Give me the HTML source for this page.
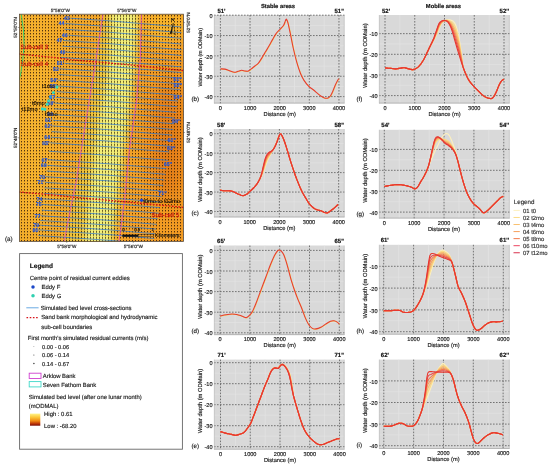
<!DOCTYPE html>
<html><head><meta charset="utf-8"><title>Sand bank figure</title>
<style>html,body{margin:0;padding:0;background:#fff;width:550px;height:465px;overflow:hidden}svg{display:block}</style>
</head><body>
<svg width="550" height="465" viewBox="0 0 550 465" text-rendering="geometricPrecision" font-family="'Liberation Sans', Arial, sans-serif">
<rect width="550" height="465" fill="#fff"/>
<defs>
<clipPath id="mclip"><rect x="19.4" y="14.2" width="164.1" height="227.2"/></clipPath>
<filter id="blur4" x="-20%" y="-20%" width="140%" height="140%"><feGaussianBlur stdDeviation="5"/></filter>
<filter id="blur3" x="-20%" y="-20%" width="140%" height="140%"><feGaussianBlur stdDeviation="3"/></filter><filter id="blur2" x="-20%" y="-20%" width="140%" height="140%"><feGaussianBlur stdDeviation="1.8"/></filter>
<filter id="blur8" x="-30%" y="-30%" width="160%" height="160%"><feGaussianBlur stdDeviation="9"/></filter>
<pattern id="dots" x="0" y="0" width="3" height="3" patternUnits="userSpaceOnUse"><rect x="0" y="0" width="1" height="1.4" fill="#3a1e08" fill-opacity="0.85"/></pattern>
<pattern id="dots2" x="0" y="0" width="3" height="3" patternUnits="userSpaceOnUse"><rect x="0" y="0" width="1" height="2.4" fill="#40360a" fill-opacity="0.6"/></pattern>
<linearGradient id="lg" x1="0" y1="0" x2="1" y2="0"><stop offset="0" stop-color="#f4ae2c"/><stop offset="0.3" stop-color="#f4aa2a"/><stop offset="0.7" stop-color="#f3a026"/><stop offset="1" stop-color="#f29a22"/></linearGradient>
</defs>
<g clip-path="url(#mclip)">
<rect x="19.4" y="14.2" width="164.1" height="227.2" fill="url(#lg)"/>
<ellipse cx="168" cy="140" rx="19" ry="62" fill="#e47e18" filter="url(#blur8)"/>
<ellipse cx="165" cy="25" rx="25" ry="22" fill="#f8b42a" filter="url(#blur8)"/>
<ellipse cx="35" cy="120" rx="18" ry="110" fill="#f7b630" filter="url(#blur8)" opacity="0.7"/>
<polygon points="104.5,0.0 104.5,8.0 104.2,16.0 102.9,24.0 101.7,32.0 100.5,40.0 99.2,48.0 98.0,56.0 96.7,64.0 95.5,72.0 94.2,80.0 92.8,88.0 91.5,96.0 90.2,104.0 88.8,112.0 87.5,120.0 86.2,128.0 85.0,136.0 83.7,144.0 82.4,152.0 81.2,160.0 79.9,168.0 78.6,176.0 77.2,184.0 75.5,192.0 73.9,200.0 72.2,208.0 70.6,216.0 69.0,224.0 67.5,232.0 65.9,240.0 65.5,248.0 114.5,248.0 114.8,240.0 115.8,232.0 116.9,224.0 117.9,216.0 119.0,208.0 120.0,200.0 120.8,192.0 121.6,184.0 122.4,176.0 123.1,168.0 123.9,160.0 124.7,152.0 125.8,144.0 127.0,136.0 128.1,128.0 129.3,120.0 130.4,112.0 131.6,104.0 132.4,96.0 133.1,88.0 133.8,80.0 134.5,72.0 135.4,64.0 135.9,56.0 136.1,48.0 136.3,40.0 136.5,32.0 136.7,24.0 136.9,16.0 137.0,8.0 137.0,0.0" fill="#efc43a" filter="url(#blur3)"/>
<polygon points="112.0,0.0 110.0,65.0 98.0,130.0 90.0,200.0 84.0,250.0 108.0,250.0 115.0,200.0 125.0,130.0 133.0,65.0 137.0,0.0" fill="#f3ec72" filter="url(#blur3)"/>
<rect x="19.4" y="14.2" width="164.1" height="227.2" fill="url(#dots)"/>
<polygon points="112.0,0.0 110.0,65.0 98.0,130.0 90.0,200.0 84.0,250.0 108.0,250.0 115.0,200.0 125.0,130.0 133.0,65.0 137.0,0.0" fill="#f2f080" opacity="0.45" filter="url(#blur3)"/>
<polygon points="104.5,0.0 104.5,8.0 104.2,16.0 102.9,24.0 101.7,32.0 100.5,40.0 99.2,48.0 98.0,56.0 96.7,64.0 95.5,72.0 94.2,80.0 92.8,88.0 91.5,96.0 90.2,104.0 88.8,112.0 87.5,120.0 86.2,128.0 85.0,136.0 83.7,144.0 82.4,152.0 81.2,160.0 79.9,168.0 78.6,176.0 77.2,184.0 75.5,192.0 73.9,200.0 72.2,208.0 70.6,216.0 69.0,224.0 67.5,232.0 65.9,240.0 65.5,248.0 114.5,248.0 114.8,240.0 115.8,232.0 116.9,224.0 117.9,216.0 119.0,208.0 120.0,200.0 120.8,192.0 121.6,184.0 122.4,176.0 123.1,168.0 123.9,160.0 124.7,152.0 125.8,144.0 127.0,136.0 128.1,128.0 129.3,120.0 130.4,112.0 131.6,104.0 132.4,96.0 133.1,88.0 133.8,80.0 134.5,72.0 135.4,64.0 135.9,56.0 136.1,48.0 136.3,40.0 136.5,32.0 136.7,24.0 136.9,16.0 137.0,8.0 137.0,0.0" fill="url(#dots2)" opacity="0.85"/>
<polyline points="21.0,13.0 23.5,30.0 24.0,45.0 23.0,58.0 21.0,72.0 19.2,80.0" fill="none" stroke="#3ccf6a" stroke-width="1"/>
<polyline points="70.4,18.21 110,20.90 181.5,26.98" fill="none" stroke="#2f7ad0" stroke-width="0.9" stroke-opacity="0.82"/>
<text x="69.8" y="20.11" font-size="5.4" font-weight="bold" text-anchor="end" fill="#2458e0" stroke="#2458e0" stroke-width="0.16">43</text>
<polyline points="65.2,23.56 110,26.60 181.5,32.68" fill="none" stroke="#2f7ad0" stroke-width="0.9" stroke-opacity="0.82"/>
<text x="64.6" y="25.46" font-size="5.4" font-weight="bold" text-anchor="end" fill="#2458e0" stroke="#2458e0" stroke-width="0.16">44</text>
<polyline points="64.5,29.21 110,32.30 181.5,38.38" fill="none" stroke="#2f7ad0" stroke-width="0.9" stroke-opacity="0.82"/>
<polyline points="68.3,35.16 110,38.00 181.5,44.08" fill="none" stroke="#2f7ad0" stroke-width="0.9" stroke-opacity="0.82"/>
<text x="67.7" y="37.06" font-size="5.4" font-weight="bold" text-anchor="end" fill="#2458e0" stroke="#2458e0" stroke-width="0.16">46</text>
<polyline points="63.1,40.51 110,43.70 181.5,49.78" fill="none" stroke="#2f7ad0" stroke-width="0.9" stroke-opacity="0.82"/>
<text x="62.5" y="42.41" font-size="5.4" font-weight="bold" text-anchor="end" fill="#2458e0" stroke="#2458e0" stroke-width="0.16">47</text>
<polyline points="62.4,46.16 110,49.40 181.5,55.48" fill="none" stroke="#2f7ad0" stroke-width="0.9" stroke-opacity="0.82"/>
<polyline points="66.2,52.12 110,55.10 181.5,61.18" fill="none" stroke="#2f7ad0" stroke-width="0.9" stroke-opacity="0.82"/>
<text x="65.6" y="54.02" font-size="5.4" font-weight="bold" text-anchor="end" fill="#2458e0" stroke="#2458e0" stroke-width="0.16">49</text>
<polyline points="61.0,57.46 110,60.80 181.5,66.88" fill="none" stroke="#2f7ad0" stroke-width="0.9" stroke-opacity="0.82"/>
<polyline points="64.7,63.42 110,66.50 181.5,72.58" fill="none" stroke="#2f7ad0" stroke-width="0.9" stroke-opacity="0.82"/>
<text x="64.1" y="65.32" font-size="5.4" font-weight="bold" text-anchor="end" fill="#2458e0" stroke="#2458e0" stroke-width="0.16">51'</text>
<polyline points="59.5,68.77 110,72.20 181.5,78.28" fill="none" stroke="#2f7ad0" stroke-width="0.9" stroke-opacity="0.82"/>
<text x="58.9" y="70.67" font-size="5.4" font-weight="bold" text-anchor="end" fill="#2458e0" stroke="#2458e0" stroke-width="0.16">52</text>
<polyline points="58.8,74.49 110,77.97 181.1,84.01" fill="none" stroke="#2f7ad0" stroke-width="0.9" stroke-opacity="0.82"/>
<polyline points="58.1,80.20 110,83.73 180.1,89.69" fill="none" stroke="#2f7ad0" stroke-width="0.9" stroke-opacity="0.82"/>
<text x="57.5" y="82.10" font-size="5.4" font-weight="bold" text-anchor="end" fill="#2458e0" stroke="#2458e0" stroke-width="0.16">54'</text>
<polyline points="57.4,85.92 110,89.50 179.1,95.37" fill="none" stroke="#2f7ad0" stroke-width="0.9" stroke-opacity="0.82"/>
<text x="56.8" y="87.82" font-size="5.4" font-weight="bold" text-anchor="end" fill="#2458e0" stroke="#2458e0" stroke-width="0.16">55'</text>
<polyline points="56.6,91.64 110,95.27 178.1,101.06" fill="none" stroke="#2f7ad0" stroke-width="0.9" stroke-opacity="0.82"/>
<polyline points="55.9,97.36 110,101.03 177.1,106.74" fill="none" stroke="#2f7ad0" stroke-width="0.9" stroke-opacity="0.82"/>
<text x="55.3" y="99.26" font-size="5.4" font-weight="bold" text-anchor="end" fill="#2458e0" stroke="#2458e0" stroke-width="0.16">57</text>
<polyline points="55.2,103.07 110,106.80 176.2,112.42" fill="none" stroke="#2f7ad0" stroke-width="0.9" stroke-opacity="0.82"/>
<text x="54.6" y="104.97" font-size="5.4" font-weight="bold" text-anchor="end" fill="#2458e0" stroke="#2458e0" stroke-width="0.16">58'</text>
<polyline points="54.5,108.79 110,112.57 175.2,118.11" fill="none" stroke="#2f7ad0" stroke-width="0.9" stroke-opacity="0.82"/>
<polyline points="53.8,114.51 110,118.33 174.2,123.79" fill="none" stroke="#2f7ad0" stroke-width="0.9" stroke-opacity="0.82"/>
<text x="53.2" y="116.41" font-size="5.4" font-weight="bold" text-anchor="end" fill="#2458e0" stroke="#2458e0" stroke-width="0.16">60</text>
<polyline points="53.0,120.23 110,124.10 173.2,129.47" fill="none" stroke="#2f7ad0" stroke-width="0.9" stroke-opacity="0.82"/>
<text x="52.4" y="122.13" font-size="5.4" font-weight="bold" text-anchor="end" fill="#2458e0" stroke="#2458e0" stroke-width="0.16">61'</text>
<polyline points="52.3,125.88 110,129.80 172.3,135.09" fill="none" stroke="#2f7ad0" stroke-width="0.9" stroke-opacity="0.82"/>
<text x="51.7" y="127.78" font-size="5.4" font-weight="bold" text-anchor="end" fill="#2458e0" stroke="#2458e0" stroke-width="0.16">62'</text>
<polyline points="51.6,131.53 110,135.50 171.3,140.71" fill="none" stroke="#2f7ad0" stroke-width="0.9" stroke-opacity="0.82"/>
<polyline points="50.9,137.18 110,141.20 170.3,146.33" fill="none" stroke="#2f7ad0" stroke-width="0.9" stroke-opacity="0.82"/>
<text x="50.3" y="139.08" font-size="5.4" font-weight="bold" text-anchor="end" fill="#2458e0" stroke="#2458e0" stroke-width="0.16">64</text>
<polyline points="50.2,142.83 110,146.90 169.3,151.94" fill="none" stroke="#2f7ad0" stroke-width="0.9" stroke-opacity="0.82"/>
<text x="49.6" y="144.73" font-size="5.4" font-weight="bold" text-anchor="end" fill="#2458e0" stroke="#2458e0" stroke-width="0.16">65'</text>
<polyline points="49.1,151.26 110,155.40 167.9,160.32" fill="none" stroke="#2f7ad0" stroke-width="0.9" stroke-opacity="0.82"/>
<polyline points="48.1,159.69 110,163.90 166.5,168.70" fill="none" stroke="#2f7ad0" stroke-width="0.9" stroke-opacity="0.82"/>
<text x="47.5" y="161.59" font-size="5.4" font-weight="bold" text-anchor="end" fill="#2458e0" stroke="#2458e0" stroke-width="0.16">67</text>
<polyline points="47.4,165.34 110,169.60 165.5,174.32" fill="none" stroke="#2f7ad0" stroke-width="0.9" stroke-opacity="0.82"/>
<text x="46.8" y="167.24" font-size="5.4" font-weight="bold" text-anchor="end" fill="#2458e0" stroke="#2458e0" stroke-width="0.16">68</text>
<polyline points="46.6,170.99 110,175.30 164.5,179.93" fill="none" stroke="#2f7ad0" stroke-width="0.9" stroke-opacity="0.82"/>
<polyline points="45.9,176.64 110,181.00 163.5,185.55" fill="none" stroke="#2f7ad0" stroke-width="0.9" stroke-opacity="0.82"/>
<text x="45.3" y="178.54" font-size="5.4" font-weight="bold" text-anchor="end" fill="#2458e0" stroke="#2458e0" stroke-width="0.16">70</text>
<polyline points="45.2,182.29 110,186.70 162.6,191.17" fill="none" stroke="#2f7ad0" stroke-width="0.9" stroke-opacity="0.82"/>
<text x="44.6" y="184.19" font-size="5.4" font-weight="bold" text-anchor="end" fill="#2458e0" stroke="#2458e0" stroke-width="0.16">71'</text>
<polyline points="44.5,187.81 110,192.27 161.6,196.66" fill="none" stroke="#2f7ad0" stroke-width="0.9" stroke-opacity="0.82"/>
<polyline points="43.8,193.33 110,197.83 160.7,202.14" fill="none" stroke="#2f7ad0" stroke-width="0.9" stroke-opacity="0.82"/>
<polyline points="43.1,198.85 110,203.40 159.7,207.63" fill="none" stroke="#2f7ad0" stroke-width="0.9" stroke-opacity="0.82"/>
<text x="42.5" y="200.75" font-size="5.4" font-weight="bold" text-anchor="end" fill="#2458e0" stroke="#2458e0" stroke-width="0.16">74</text>
<polyline points="42.4,204.47 110,209.07 158.8,213.21" fill="none" stroke="#2f7ad0" stroke-width="0.9" stroke-opacity="0.82"/>
<text x="41.8" y="206.37" font-size="5.4" font-weight="bold" text-anchor="end" fill="#2458e0" stroke="#2458e0" stroke-width="0.16">75</text>
<polyline points="41.7,210.09 110,214.73 157.8,218.80" fill="none" stroke="#2f7ad0" stroke-width="0.9" stroke-opacity="0.82"/>
<polyline points="41.0,215.71 110,220.40 156.8,224.38" fill="none" stroke="#2f7ad0" stroke-width="0.9" stroke-opacity="0.82"/>
<text x="40.4" y="217.61" font-size="5.4" font-weight="bold" text-anchor="end" fill="#2458e0" stroke="#2458e0" stroke-width="0.16">77</text>
<polyline points="40.4,220.43 110,225.17 156.0,229.08" fill="none" stroke="#2f7ad0" stroke-width="0.9" stroke-opacity="0.82"/>
<polyline points="39.8,225.16 110,229.93 155.2,233.78" fill="none" stroke="#2f7ad0" stroke-width="0.9" stroke-opacity="0.82"/>
<text x="39.2" y="227.06" font-size="5.4" font-weight="bold" text-anchor="end" fill="#2458e0" stroke="#2458e0" stroke-width="0.16">79</text>
<polyline points="39.2,229.89 110,234.70 154.4,238.48" fill="none" stroke="#2f7ad0" stroke-width="0.9" stroke-opacity="0.82"/>
<text x="38.6" y="231.79" font-size="5.4" font-weight="bold" text-anchor="end" fill="#2458e0" stroke="#2458e0" stroke-width="0.16">80</text>
<polyline points="38.5,235.54 110,240.40 153.4,244.09" fill="none" stroke="#2f7ad0" stroke-width="0.9" stroke-opacity="0.82"/>
<text x="173.2" y="81.20" font-size="5.4" font-weight="bold" fill="#2458e0" stroke="#2458e0" stroke-width="0.16">51''</text>
<text x="173.6" y="87.40" font-size="5.4" font-weight="bold" fill="#2458e0" stroke="#2458e0" stroke-width="0.16">52''</text>
<text x="173.4" y="98.90" font-size="5.4" font-weight="bold" fill="#2458e0" stroke="#2458e0" stroke-width="0.16">54''</text>
<text x="172" y="122.90" font-size="5.4" font-weight="bold" fill="#2458e0" stroke="#2458e0" stroke-width="0.16">58''</text>
<text x="167.6" y="142.40" font-size="5.4" font-weight="bold" fill="#2458e0" stroke="#2458e0" stroke-width="0.16">61''</text>
<text x="167" y="149.50" font-size="5.4" font-weight="bold" fill="#2458e0" stroke="#2458e0" stroke-width="0.16">62''</text>
<text x="163.7" y="165.60" font-size="5.4" font-weight="bold" fill="#2458e0" stroke="#2458e0" stroke-width="0.16">65''</text>
<text x="158.3" y="195.20" font-size="5.4" font-weight="bold" fill="#2458e0" stroke="#2458e0" stroke-width="0.16">71''</text>
<polyline points="141.5,14.0 140.3,60.0 139.2,70.0 136.5,101.0 133.8,120.0 129.4,150.0 124.5,200.0 119.0,242.0" fill="none" stroke="#e048c8" stroke-width="0.7"/>
<polyline points="103.0,14.0 94.0,72.0 86.0,120.0 76.5,180.0 70.7,208.0 64.0,242.0" fill="none" stroke="#e048c8" stroke-width="0.7"/>
<polyline points="19.0,54.0 56.7,57.8 70.0,59.7 130.0,64.9 185.0,70.7" fill="none" stroke="#d81018" stroke-width="1.35" stroke-dasharray="1.7,1.5"/>
<polyline points="19.0,192.0 50.0,194.7 74.0,197.3 110.0,200.5 127.3,202.0 185.0,207.5" fill="none" stroke="#d81018" stroke-width="1.35" stroke-dasharray="1.7,1.5"/>
<text x="20.6" y="48.7" font-size="6.2" fill="#c80e0e" stroke="#c80e0e" stroke-width="0.16">Sub-cell 3</text>
<text x="20.6" y="65.8" font-size="6.2" fill="#c80e0e" stroke="#c80e0e" stroke-width="0.16">Sub-cell 4</text>
<text x="151.6" y="216.7" font-size="6.2" fill="#c80e0e" stroke="#c80e0e" stroke-width="0.16">Sub-cell 5</text>
<circle cx="56.9" cy="87.1" r="1.55" fill="#2fd8c0"/>
<circle cx="53.4" cy="92.5" r="1.55" fill="#2fd8c0"/>
<circle cx="50.4" cy="96.8" r="1.55" fill="#2a9ae0"/>
<circle cx="48.7" cy="100.7" r="1.55" fill="#2fd8c0"/>
<circle cx="47.2" cy="104.3" r="1.55" fill="#2fd8c0"/>
<circle cx="42.4" cy="108.9" r="1.55" fill="#2fd8c0"/>
<circle cx="44.8" cy="109.3" r="1.55" fill="#2fd8c0"/>
<circle cx="141.6" cy="200.2" r="1.6" fill="#1c48d8"/>
<text x="42.0" y="87.6" font-size="5.75" fill="#140c04" stroke="#140c04" stroke-width="0.12">t1mo</text>
<text x="31.9" y="105.0" font-size="5.75" fill="#140c04" stroke="#140c04" stroke-width="0.12">t6mo</text>
<text x="21.6" y="110.6" font-size="5.75" fill="#140c04" stroke="#140c04" stroke-width="0.12">t12mo</text>
<text x="44.8" y="116.2" font-size="5.75" fill="#140c04" stroke="#140c04" stroke-width="0.12">t9mo</text>
<text x="143.2" y="202.9" font-size="5.75" fill="#140c04" stroke="#140c04" stroke-width="0.12">t0mo to t12mo</text>
<text x="171.3" y="20.9" font-size="4" fill="#111" stroke="#111" stroke-width="0.16">N</text>
<polygon points="173.2,23 169.4,35 171.8,32.6" fill="#111"/>
<polygon points="173.2,23 175.6,35 171.8,32.6" fill="none" stroke="#111" stroke-width="0.4"/>
<rect x="122.3" y="234.6" width="15.7" height="2.2" fill="#111"/>
<rect x="138" y="234.6" width="15.7" height="2.2" fill="none" stroke="#111" stroke-width="0.4"/>
<text x="123.6" y="230.6" font-size="4.4" text-anchor="middle" fill="#111" stroke="#111" stroke-width="0.16">0</text>
<text x="137.2" y="230.6" font-size="4.4" text-anchor="middle" fill="#111" stroke="#111" stroke-width="0.16">0.5</text>
<text x="152.8" y="230.6" font-size="4.4" text-anchor="middle" fill="#111" stroke="#111" stroke-width="0.16">1</text>
<text x="155" y="237.4" font-size="5.2" fill="#111" stroke="#111" stroke-width="0.16">Kilometers</text>
</g>
<rect x="19.4" y="14.2" width="164.1" height="227.2" fill="none" stroke="#5a4a38" stroke-width="0.8"/>
<line x1="60.3" y1="12.7" x2="60.3" y2="14.2" stroke="#333" stroke-width="0.4"/>
<text x="60.3" y="11.5" font-size="4.7" text-anchor="middle" fill="#222" stroke="#222" stroke-width="0.16">5°58'0&quot;W</text>
<line x1="126.8" y1="12.7" x2="126.8" y2="14.2" stroke="#333" stroke-width="0.4"/>
<text x="126.8" y="11.5" font-size="4.7" text-anchor="middle" fill="#222" stroke="#222" stroke-width="0.16">5°56'0&quot;W</text>
<line x1="66.8" y1="241.4" x2="66.8" y2="242.9" stroke="#333" stroke-width="0.4"/>
<text x="66.8" y="247.5" font-size="4.7" text-anchor="middle" fill="#222" stroke="#222" stroke-width="0.16">5°58'0&quot;W</text>
<line x1="133.3" y1="241.4" x2="133.3" y2="242.9" stroke="#333" stroke-width="0.4"/>
<text x="133.3" y="247.5" font-size="4.7" text-anchor="middle" fill="#222" stroke="#222" stroke-width="0.16">5°56'0&quot;W</text>
<line x1="17.9" y1="27.5" x2="19.4" y2="27.5" stroke="#333" stroke-width="0.4"/>
<text transform="translate(16.6,27.5) rotate(-90)" x="0" y="0" font-size="4.6" text-anchor="middle" fill="#222" stroke="#222" stroke-width="0.16">52°50'0&quot;N</text>
<line x1="17.9" y1="137.8" x2="19.4" y2="137.8" stroke="#333" stroke-width="0.4"/>
<text transform="translate(16.6,137.8) rotate(-90)" x="0" y="0" font-size="4.6" text-anchor="middle" fill="#222" stroke="#222" stroke-width="0.16">52°48'0&quot;N</text>
<line x1="183.5" y1="22.6" x2="185.0" y2="22.6" stroke="#333" stroke-width="0.4"/>
<text transform="translate(190.0,22.6) rotate(-90)" x="0" y="0" font-size="4.6" text-anchor="middle" fill="#222" stroke="#222" stroke-width="0.16">52°50'0&quot;N</text>
<line x1="183.5" y1="132.5" x2="185.0" y2="132.5" stroke="#333" stroke-width="0.4"/>
<text transform="translate(190.0,132.5) rotate(-90)" x="0" y="0" font-size="4.6" text-anchor="middle" fill="#222" stroke="#222" stroke-width="0.16">52°48'0&quot;N</text>
<text x="5" y="241.2" font-size="6.3" fill="#222" stroke="#222" stroke-width="0.16">(a)</text>
<defs><linearGradient id="bedg" x1="0" y1="0" x2="0" y2="1"><stop offset="0" stop-color="#fff48a"/><stop offset="0.3" stop-color="#fcc83a"/><stop offset="0.6" stop-color="#f08a14"/><stop offset="0.82" stop-color="#c03a08"/><stop offset="1" stop-color="#7a0a04"/></linearGradient></defs>
<rect x="19.6" y="253.6" width="162.8" height="195.6" fill="#fff" stroke="#666" stroke-width="0.9"/>
<text x="29.8" y="268.14" font-size="6.5" font-weight="bold" fill="#111" stroke="#111" stroke-width="0.16">Legend</text>
<text x="29.8" y="279.82" font-size="5.9" fill="#222" stroke="#222" stroke-width="0.16">Centre point of residual current eddies</text>
<circle cx="33" cy="287" r="1.75" fill="#1c48c8"/>
<text x="41.6" y="289.12" font-size="5.9" fill="#222" stroke="#222" stroke-width="0.16">Eddy F</text>
<circle cx="33" cy="295.8" r="1.75" fill="#2fd0b0"/>
<text x="41.6" y="297.92" font-size="5.9" fill="#222" stroke="#222" stroke-width="0.16">Eddy G</text>
<line x1="26.3" y1="307.8" x2="38.6" y2="307.8" stroke="#5aa0e0" stroke-width="0.9"/>
<text x="40.7" y="309.92" font-size="5.9" fill="#222" stroke="#222" stroke-width="0.16">Simulated bed level cross-sections</text>
<line x1="26.5" y1="317.6" x2="38.6" y2="317.6" stroke="#d8141c" stroke-width="1.1" stroke-dasharray="1.6,1.6"/>
<text x="41.2" y="319.42" font-size="5.9" fill="#222" stroke="#222" stroke-width="0.16">Sand bank morphological and hydrodynamic</text>
<text x="41.2" y="329.02" font-size="5.9" fill="#222" stroke="#222" stroke-width="0.16">sub-cell boundaries</text>
<text x="27.8" y="340.32" font-size="5.9" fill="#222" stroke="#222" stroke-width="0.16">First month&apos;s simulated residual currents (m/s)</text>
<circle cx="33.9" cy="346.7" r="0.35" fill="#333"/>
<text x="42" y="348.75" font-size="5.7" fill="#222" stroke="#222" stroke-width="0.16">0.00 - 0.06</text>
<circle cx="33.9" cy="355.1" r="0.5" fill="#333"/>
<text x="42" y="357.15" font-size="5.7" fill="#222" stroke="#222" stroke-width="0.16">0.06 - 0.14</text>
<circle cx="33.9" cy="363.5" r="0.7" fill="#333"/>
<text x="42" y="365.55" font-size="5.7" fill="#222" stroke="#222" stroke-width="0.16">0.14 - 0.67</text>
<rect x="29.2" y="373.2" width="11.8" height="5.3" fill="none" stroke="#d040d0" stroke-width="0.9"/>
<text x="42.8" y="377.92" font-size="5.9" fill="#222" stroke="#222" stroke-width="0.16">Arklow Bank</text>
<rect x="29.2" y="381.6" width="11.8" height="5.3" fill="none" stroke="#40d8c8" stroke-width="0.9"/>
<text x="42.8" y="386.72" font-size="5.9" fill="#222" stroke="#222" stroke-width="0.16">Seven Fathom Bank</text>
<text x="28.7" y="398.82" font-size="5.9" fill="#222" stroke="#222" stroke-width="0.16">Simulated bed level (after one lunar month)</text>
<text x="28.7" y="408.02" font-size="5.9" fill="#222" stroke="#222" stroke-width="0.16">(mODMAL)</text>
<rect x="30" y="413.6" width="10.3" height="12.1" fill="url(#bedg)"/>
<text x="44.1" y="416.32" font-size="5.9" fill="#222" stroke="#222" stroke-width="0.16">High : 0.61</text>
<text x="44.1" y="428.32" font-size="5.9" fill="#222" stroke="#222" stroke-width="0.16">Low : -68.20</text>
<rect x="214.0" y="15.0" width="130.50" height="88.40" fill="#d9d9d9"/>
<line x1="235.22" y1="15.0" x2="235.22" y2="103.4" stroke="#e6e6e6" stroke-width="0.6"/>
<line x1="264.86" y1="15.0" x2="264.86" y2="103.4" stroke="#e6e6e6" stroke-width="0.6"/>
<line x1="294.50" y1="15.0" x2="294.50" y2="103.4" stroke="#e6e6e6" stroke-width="0.6"/>
<line x1="324.14" y1="15.0" x2="324.14" y2="103.4" stroke="#e6e6e6" stroke-width="0.6"/>
<line x1="214.0" y1="25.38" x2="344.5" y2="25.38" stroke="#e4e4e4" stroke-width="0.6"/>
<line x1="214.0" y1="45.73" x2="344.5" y2="45.73" stroke="#e4e4e4" stroke-width="0.6"/>
<line x1="214.0" y1="66.08" x2="344.5" y2="66.08" stroke="#e4e4e4" stroke-width="0.6"/>
<line x1="214.0" y1="86.43" x2="344.5" y2="86.43" stroke="#e4e4e4" stroke-width="0.6"/>
<line x1="220.40" y1="15.0" x2="220.40" y2="103.4" stroke="#686868" stroke-width="0.9" stroke-dasharray="1.6,1.4"/>
<line x1="250.04" y1="15.0" x2="250.04" y2="103.4" stroke="#686868" stroke-width="0.9" stroke-dasharray="1.6,1.4"/>
<line x1="279.68" y1="15.0" x2="279.68" y2="103.4" stroke="#686868" stroke-width="0.9" stroke-dasharray="1.6,1.4"/>
<line x1="309.32" y1="15.0" x2="309.32" y2="103.4" stroke="#686868" stroke-width="0.9" stroke-dasharray="1.6,1.4"/>
<line x1="338.96" y1="15.0" x2="338.96" y2="103.4" stroke="#686868" stroke-width="0.9" stroke-dasharray="1.6,1.4"/>
<line x1="214.0" y1="15.20" x2="344.5" y2="15.20" stroke="#686868" stroke-width="0.9" stroke-dasharray="1.6,1.4"/>
<line x1="214.0" y1="35.55" x2="344.5" y2="35.55" stroke="#686868" stroke-width="0.9" stroke-dasharray="1.6,1.4"/>
<line x1="214.0" y1="55.90" x2="344.5" y2="55.90" stroke="#686868" stroke-width="0.9" stroke-dasharray="1.6,1.4"/>
<line x1="214.0" y1="76.25" x2="344.5" y2="76.25" stroke="#686868" stroke-width="0.9" stroke-dasharray="1.6,1.4"/>
<line x1="214.0" y1="96.60" x2="344.5" y2="96.60" stroke="#686868" stroke-width="0.9" stroke-dasharray="1.6,1.4"/>
<line x1="214.0" y1="103.10" x2="344.5" y2="103.10" stroke="#999" stroke-width="0.6"/>
<line x1="214.30" y1="15.0" x2="214.30" y2="103.4" stroke="#bbb" stroke-width="0.6"/>
<line x1="344.20" y1="15.0" x2="344.20" y2="103.4" stroke="#bbb" stroke-width="0.6"/>
<path d="M220.48,68.88 C221.20,68.92 223.28,68.80 224.80,69.12 C226.32,69.44 228.00,70.28 229.60,70.80 C231.20,71.32 233.00,72.16 234.40,72.24 C235.80,72.32 236.80,71.60 238.00,71.28 C239.20,70.96 240.40,70.36 241.60,70.32 C242.80,70.28 244.08,70.92 245.20,71.04 C246.32,71.16 247.32,71.40 248.32,71.04 C249.32,70.68 250.12,69.72 251.20,68.88 C252.28,68.04 253.60,66.96 254.80,66.00 C256.00,65.04 257.20,64.52 258.40,63.12 C259.60,61.72 260.80,59.52 262.00,57.60 C263.20,55.68 264.40,53.60 265.60,51.60 C266.80,49.60 268.00,47.68 269.20,45.60 C270.40,43.52 271.60,41.20 272.80,39.12 C274.00,37.04 275.20,34.76 276.40,33.12 C277.60,31.48 278.80,30.60 280.00,29.28 C281.20,27.96 282.72,26.56 283.60,25.20 C284.48,23.84 284.80,22.12 285.28,21.12 C285.76,20.12 286.04,18.92 286.48,19.20 C286.92,19.48 287.28,20.40 287.92,22.80 C288.56,25.20 289.44,29.40 290.32,33.60 C291.20,37.80 292.12,43.20 293.20,48.00 C294.28,52.80 295.60,58.20 296.80,62.40 C298.00,66.60 299.20,70.20 300.40,73.20 C301.60,76.20 302.60,78.20 304.00,80.40 C305.40,82.60 307.20,84.80 308.80,86.40 C310.40,88.00 312.20,88.88 313.60,90.00 C315.00,91.12 316.00,92.12 317.20,93.12 C318.40,94.12 319.60,95.20 320.80,96.00 C322.00,96.80 323.20,97.60 324.40,97.92 C325.60,98.24 327.00,98.24 328.00,97.92 C329.00,97.60 329.60,97.12 330.40,96.00 C331.20,94.88 332.00,93.00 332.80,91.20 C333.60,89.40 334.40,87.00 335.20,85.20 C336.00,83.40 336.96,81.48 337.60,80.40 C338.24,79.32 338.80,79.00 339.04,78.72" fill="none" stroke="#f8d84a" stroke-width="1.0" transform="translate(0.35,0.3)"/>
<path d="M220.48,68.88 C221.20,68.92 223.28,68.80 224.80,69.12 C226.32,69.44 228.00,70.28 229.60,70.80 C231.20,71.32 233.00,72.16 234.40,72.24 C235.80,72.32 236.80,71.60 238.00,71.28 C239.20,70.96 240.40,70.36 241.60,70.32 C242.80,70.28 244.08,70.92 245.20,71.04 C246.32,71.16 247.32,71.40 248.32,71.04 C249.32,70.68 250.12,69.72 251.20,68.88 C252.28,68.04 253.60,66.96 254.80,66.00 C256.00,65.04 257.20,64.52 258.40,63.12 C259.60,61.72 260.80,59.52 262.00,57.60 C263.20,55.68 264.40,53.60 265.60,51.60 C266.80,49.60 268.00,47.68 269.20,45.60 C270.40,43.52 271.60,41.20 272.80,39.12 C274.00,37.04 275.20,34.76 276.40,33.12 C277.60,31.48 278.80,30.60 280.00,29.28 C281.20,27.96 282.72,26.56 283.60,25.20 C284.48,23.84 284.80,22.12 285.28,21.12 C285.76,20.12 286.04,18.92 286.48,19.20 C286.92,19.48 287.28,20.40 287.92,22.80 C288.56,25.20 289.44,29.40 290.32,33.60 C291.20,37.80 292.12,43.20 293.20,48.00 C294.28,52.80 295.60,58.20 296.80,62.40 C298.00,66.60 299.20,70.20 300.40,73.20 C301.60,76.20 302.60,78.20 304.00,80.40 C305.40,82.60 307.20,84.80 308.80,86.40 C310.40,88.00 312.20,88.88 313.60,90.00 C315.00,91.12 316.00,92.12 317.20,93.12 C318.40,94.12 319.60,95.20 320.80,96.00 C322.00,96.80 323.20,97.60 324.40,97.92 C325.60,98.24 327.00,98.24 328.00,97.92 C329.00,97.60 329.60,97.12 330.40,96.00 C331.20,94.88 332.00,93.00 332.80,91.20 C333.60,89.40 334.40,87.00 335.20,85.20 C336.00,83.40 336.96,81.48 337.60,80.40 C338.24,79.32 338.80,79.00 339.04,78.72" fill="none" stroke="#e53a36" stroke-width="1.05"/>
<text x="212.50" y="17.82" font-size="5.6" text-anchor="end" fill="#222" stroke="#222" stroke-width="0.16">0</text>
<text x="212.50" y="38.17" font-size="5.6" text-anchor="end" fill="#222" stroke="#222" stroke-width="0.16">-10</text>
<text x="212.50" y="58.52" font-size="5.6" text-anchor="end" fill="#222" stroke="#222" stroke-width="0.16">-20</text>
<text x="212.50" y="78.87" font-size="5.6" text-anchor="end" fill="#222" stroke="#222" stroke-width="0.16">-30</text>
<text x="212.50" y="99.22" font-size="5.6" text-anchor="end" fill="#222" stroke="#222" stroke-width="0.16">-40</text>
<text x="220.40" y="109.72" font-size="5.6" text-anchor="middle" fill="#222" stroke="#222" stroke-width="0.16">0</text>
<text x="250.04" y="109.72" font-size="5.6" text-anchor="middle" fill="#222" stroke="#222" stroke-width="0.16">1000</text>
<text x="279.68" y="109.72" font-size="5.6" text-anchor="middle" fill="#222" stroke="#222" stroke-width="0.16">2000</text>
<text x="309.32" y="109.72" font-size="5.6" text-anchor="middle" fill="#222" stroke="#222" stroke-width="0.16">3000</text>
<text x="338.96" y="109.72" font-size="5.6" text-anchor="middle" fill="#222" stroke="#222" stroke-width="0.16">4000</text>
<text x="279.68" y="115.60" font-size="5.7" text-anchor="middle" fill="#222" stroke="#222" stroke-width="0.16">Distance (m)</text>
<text transform="translate(202.20,57.20) rotate(-90)" x="0" y="0" font-size="5.25" text-anchor="middle" fill="#222" stroke="#222" stroke-width="0.16">Water depth (m ODMain)</text>
<text x="217.40" y="12.50" font-size="6" font-weight="bold" fill="#111" stroke="#111" stroke-width="0.16">51'</text>
<text x="344.00" y="12.50" font-size="6" font-weight="bold" text-anchor="end" fill="#111" stroke="#111" stroke-width="0.16">51''</text>
<text x="191.5" y="101.40" font-size="6.2" fill="#222" stroke="#222" stroke-width="0.16">(b)</text>
<rect x="214.0" y="129.0" width="130.50" height="88.30" fill="#d9d9d9"/>
<line x1="234.92" y1="129.0" x2="234.92" y2="217.3" stroke="#e6e6e6" stroke-width="0.6"/>
<line x1="264.56" y1="129.0" x2="264.56" y2="217.3" stroke="#e6e6e6" stroke-width="0.6"/>
<line x1="294.20" y1="129.0" x2="294.20" y2="217.3" stroke="#e6e6e6" stroke-width="0.6"/>
<line x1="323.84" y1="129.0" x2="323.84" y2="217.3" stroke="#e6e6e6" stroke-width="0.6"/>
<line x1="214.0" y1="143.42" x2="344.5" y2="143.42" stroke="#e4e4e4" stroke-width="0.6"/>
<line x1="214.0" y1="162.88" x2="344.5" y2="162.88" stroke="#e4e4e4" stroke-width="0.6"/>
<line x1="214.0" y1="182.32" x2="344.5" y2="182.32" stroke="#e4e4e4" stroke-width="0.6"/>
<line x1="214.0" y1="201.77" x2="344.5" y2="201.77" stroke="#e4e4e4" stroke-width="0.6"/>
<line x1="220.10" y1="129.0" x2="220.10" y2="217.3" stroke="#686868" stroke-width="0.9" stroke-dasharray="1.6,1.4"/>
<line x1="249.74" y1="129.0" x2="249.74" y2="217.3" stroke="#686868" stroke-width="0.9" stroke-dasharray="1.6,1.4"/>
<line x1="279.38" y1="129.0" x2="279.38" y2="217.3" stroke="#686868" stroke-width="0.9" stroke-dasharray="1.6,1.4"/>
<line x1="309.02" y1="129.0" x2="309.02" y2="217.3" stroke="#686868" stroke-width="0.9" stroke-dasharray="1.6,1.4"/>
<line x1="338.66" y1="129.0" x2="338.66" y2="217.3" stroke="#686868" stroke-width="0.9" stroke-dasharray="1.6,1.4"/>
<line x1="214.0" y1="133.70" x2="344.5" y2="133.70" stroke="#686868" stroke-width="0.9" stroke-dasharray="1.6,1.4"/>
<line x1="214.0" y1="153.15" x2="344.5" y2="153.15" stroke="#686868" stroke-width="0.9" stroke-dasharray="1.6,1.4"/>
<line x1="214.0" y1="172.60" x2="344.5" y2="172.60" stroke="#686868" stroke-width="0.9" stroke-dasharray="1.6,1.4"/>
<line x1="214.0" y1="192.05" x2="344.5" y2="192.05" stroke="#686868" stroke-width="0.9" stroke-dasharray="1.6,1.4"/>
<line x1="214.0" y1="211.50" x2="344.5" y2="211.50" stroke="#686868" stroke-width="0.9" stroke-dasharray="1.6,1.4"/>
<line x1="214.0" y1="217.00" x2="344.5" y2="217.00" stroke="#999" stroke-width="0.6"/>
<line x1="214.30" y1="129.0" x2="214.30" y2="217.3" stroke="#bbb" stroke-width="0.6"/>
<line x1="344.20" y1="129.0" x2="344.20" y2="217.3" stroke="#bbb" stroke-width="0.6"/>
<path d="M220.0,190.3 L221.0,190.4 L222.0,190.5 L223.0,190.6 L224.0,190.7 L225.0,190.7 L226.0,190.8 L227.0,190.8 L228.0,190.8 L229.0,190.8 L230.0,190.9 L231.0,191.0 L232.0,191.2 L233.0,191.6 L234.0,192.0 L235.0,192.5 L236.0,192.9 L237.0,193.4 L238.0,193.9 L239.0,194.3 L240.0,194.7 L241.0,195.2 L242.0,195.5 L243.0,195.6 L244.0,195.4 L245.0,195.1 L246.0,194.6 L247.0,194.0 L248.0,193.2 L249.0,192.2 L250.0,191.3 L251.0,190.4 L252.0,189.5 L253.0,188.5 L254.0,187.5 L255.0,186.4 L256.0,185.2 L257.0,183.9 L258.0,182.1 L259.0,180.3 L260.0,178.6 L261.0,177.0 L262.0,175.2 L263.0,172.9 L264.0,170.3 L265.0,167.4 L266.0,164.2 L267.0,161.5 L268.0,159.3 L269.0,157.3 L270.0,155.4 L271.0,153.4 L272.0,151.5 L273.0,149.6 L274.0,147.8 L275.0,145.9 L276.0,143.8 L277.0,141.1 L278.0,138.2 L279.0,135.6 L280.0,134.2 L281.0,134.1 L282.0,135.7 L283.0,137.7 L284.0,140.2 L285.0,143.0 L286.0,146.2 L287.0,149.4 L288.0,152.6 L289.0,156.0 L290.0,159.4 L291.0,162.6 L292.0,165.7 L293.0,168.7 L294.0,171.7 L295.0,174.5 L296.0,177.2 L297.0,179.9 L298.0,182.4 L299.0,184.9 L300.0,187.3 L301.0,189.5 L302.0,191.6 L303.0,193.5 L304.0,195.2 L305.0,196.9 L306.0,198.5 L307.0,200.3 L308.0,201.9 L309.0,203.3 L310.0,204.6 L311.0,205.6 L312.0,206.6 L313.0,207.5 L314.0,208.3 L315.0,208.9 L316.0,209.4 L317.0,209.7 L318.0,210.0 L319.0,210.2 L320.0,210.5 L321.0,210.8 L322.0,211.2 L323.0,211.7 L324.0,212.2 L325.0,212.6 L326.0,212.8 L327.0,212.9 L328.0,212.6 L329.0,212.0 L330.0,211.3 L331.0,210.4 L332.0,209.7 L333.0,209.0 L334.0,208.2 L335.0,207.3 L336.0,206.4 L337.0,205.5 L338.0,204.5" fill="none" stroke="#fdf0bd" stroke-width="1.1" stroke-linejoin="round"/>
<path d="M220.0,190.3 L221.0,190.4 L222.0,190.5 L223.0,190.6 L224.0,190.7 L225.0,190.7 L226.0,190.8 L227.0,190.8 L228.0,190.8 L229.0,190.8 L230.0,190.9 L231.0,191.0 L232.0,191.2 L233.0,191.6 L234.0,192.0 L235.0,192.5 L236.0,192.9 L237.0,193.4 L238.0,193.9 L239.0,194.3 L240.0,194.7 L241.0,195.2 L242.0,195.5 L243.0,195.6 L244.0,195.4 L245.0,195.1 L246.0,194.6 L247.0,194.0 L248.0,193.2 L249.0,192.2 L250.0,191.3 L251.0,190.4 L252.0,189.5 L253.0,188.5 L254.0,187.5 L255.0,186.4 L256.0,185.2 L257.0,183.9 L258.0,182.2 L259.0,180.4 L260.0,178.6 L261.0,176.8 L262.0,174.7 L263.0,172.0 L264.0,169.1 L265.0,166.1 L266.0,162.9 L267.0,160.3 L268.0,158.3 L269.0,156.5 L270.0,154.8 L271.0,153.1 L272.0,151.4 L273.0,149.6 L274.0,147.9 L275.0,146.1 L276.0,143.9 L277.0,141.3 L278.0,138.4 L279.0,135.8 L280.0,134.2 L281.0,134.1 L282.0,135.7 L283.0,137.7 L284.0,140.2 L285.0,143.0 L286.0,146.2 L287.0,149.4 L288.0,152.6 L289.0,156.0 L290.0,159.4 L291.0,162.6 L292.0,165.7 L293.0,168.7 L294.0,171.7 L295.0,174.5 L296.0,177.2 L297.0,179.9 L298.0,182.4 L299.0,184.9 L300.0,187.3 L301.0,189.5 L302.0,191.6 L303.0,193.5 L304.0,195.2 L305.0,196.9 L306.0,198.5 L307.0,200.3 L308.0,201.9 L309.0,203.3 L310.0,204.6 L311.0,205.6 L312.0,206.6 L313.0,207.5 L314.0,208.3 L315.0,208.9 L316.0,209.4 L317.0,209.7 L318.0,210.0 L319.0,210.2 L320.0,210.5 L321.0,210.8 L322.0,211.2 L323.0,211.7 L324.0,212.2 L325.0,212.6 L326.0,212.8 L327.0,212.9 L328.0,212.6 L329.0,212.0 L330.0,211.3 L331.0,210.4 L332.0,209.7 L333.0,209.0 L334.0,208.2 L335.0,207.3 L336.0,206.4 L337.0,205.5 L338.0,204.5" fill="none" stroke="#fbdc86" stroke-width="1.1" stroke-linejoin="round"/>
<path d="M220.0,190.3 L221.0,190.4 L222.0,190.5 L223.0,190.6 L224.0,190.7 L225.0,190.7 L226.0,190.8 L227.0,190.8 L228.0,190.8 L229.0,190.8 L230.0,190.9 L231.0,191.0 L232.0,191.2 L233.0,191.6 L234.0,192.0 L235.0,192.5 L236.0,192.9 L237.0,193.4 L238.0,193.9 L239.0,194.3 L240.0,194.7 L241.0,195.2 L242.0,195.5 L243.0,195.6 L244.0,195.4 L245.0,195.1 L246.0,194.6 L247.0,194.0 L248.0,193.2 L249.0,192.2 L250.0,191.3 L251.0,190.4 L252.0,189.5 L253.0,188.5 L254.0,187.5 L255.0,186.4 L256.0,185.2 L257.0,183.9 L258.0,182.2 L259.0,180.4 L260.0,178.5 L261.0,176.6 L262.0,174.2 L263.0,171.2 L264.0,167.9 L265.0,164.7 L266.0,161.6 L267.0,159.2 L268.0,157.3 L269.0,155.7 L270.0,154.1 L271.0,152.7 L272.0,151.3 L273.0,149.7 L274.0,148.0 L275.0,146.2 L276.0,144.0 L277.0,141.4 L278.0,138.5 L279.0,135.9 L280.0,134.2 L281.0,134.1 L282.0,135.7 L283.0,137.7 L284.0,140.2 L285.0,143.0 L286.0,146.2 L287.0,149.4 L288.0,152.6 L289.0,156.0 L290.0,159.4 L291.0,162.6 L292.0,165.7 L293.0,168.7 L294.0,171.7 L295.0,174.5 L296.0,177.2 L297.0,179.9 L298.0,182.4 L299.0,184.9 L300.0,187.3 L301.0,189.5 L302.0,191.6 L303.0,193.5 L304.0,195.2 L305.0,196.9 L306.0,198.5 L307.0,200.3 L308.0,201.9 L309.0,203.3 L310.0,204.6 L311.0,205.6 L312.0,206.6 L313.0,207.5 L314.0,208.3 L315.0,208.9 L316.0,209.4 L317.0,209.7 L318.0,210.0 L319.0,210.2 L320.0,210.5 L321.0,210.8 L322.0,211.2 L323.0,211.7 L324.0,212.2 L325.0,212.6 L326.0,212.8 L327.0,212.9 L328.0,212.6 L329.0,212.0 L330.0,211.3 L331.0,210.4 L332.0,209.7 L333.0,209.0 L334.0,208.2 L335.0,207.3 L336.0,206.4 L337.0,205.5 L338.0,204.5" fill="none" stroke="#f9c06e" stroke-width="1.1" stroke-linejoin="round"/>
<path d="M220.0,190.3 L221.0,190.4 L222.0,190.5 L223.0,190.6 L224.0,190.7 L225.0,190.7 L226.0,190.8 L227.0,190.8 L228.0,190.8 L229.0,190.8 L230.0,190.9 L231.0,191.0 L232.0,191.2 L233.0,191.6 L234.0,192.0 L235.0,192.5 L236.0,192.9 L237.0,193.4 L238.0,193.9 L239.0,194.3 L240.0,194.7 L241.0,195.2 L242.0,195.5 L243.0,195.6 L244.0,195.4 L245.0,195.1 L246.0,194.6 L247.0,194.0 L248.0,193.2 L249.0,192.2 L250.0,191.3 L251.0,190.4 L252.0,189.5 L253.0,188.5 L254.0,187.5 L255.0,186.4 L256.0,185.2 L257.0,183.9 L258.0,182.3 L259.0,180.4 L260.0,178.5 L261.0,176.4 L262.0,173.7 L263.0,170.3 L264.0,166.7 L265.0,163.3 L266.0,160.3 L267.0,158.0 L268.0,156.3 L269.0,154.9 L270.0,153.5 L271.0,152.4 L272.0,151.2 L273.0,149.7 L274.0,148.1 L275.0,146.3 L276.0,144.1 L277.0,141.6 L278.0,138.7 L279.0,136.0 L280.0,134.2 L281.0,134.1 L282.0,135.7 L283.0,137.7 L284.0,140.2 L285.0,143.0 L286.0,146.2 L287.0,149.4 L288.0,152.6 L289.0,156.0 L290.0,159.4 L291.0,162.6 L292.0,165.7 L293.0,168.7 L294.0,171.7 L295.0,174.5 L296.0,177.2 L297.0,179.9 L298.0,182.4 L299.0,184.9 L300.0,187.3 L301.0,189.5 L302.0,191.6 L303.0,193.5 L304.0,195.2 L305.0,196.9 L306.0,198.5 L307.0,200.3 L308.0,201.9 L309.0,203.3 L310.0,204.6 L311.0,205.6 L312.0,206.6 L313.0,207.5 L314.0,208.3 L315.0,208.9 L316.0,209.4 L317.0,209.7 L318.0,210.0 L319.0,210.2 L320.0,210.5 L321.0,210.8 L322.0,211.2 L323.0,211.7 L324.0,212.2 L325.0,212.6 L326.0,212.8 L327.0,212.9 L328.0,212.6 L329.0,212.0 L330.0,211.3 L331.0,210.4 L332.0,209.7 L333.0,209.0 L334.0,208.2 L335.0,207.3 L336.0,206.4 L337.0,205.5 L338.0,204.5" fill="none" stroke="#f7a05c" stroke-width="1.1" stroke-linejoin="round"/>
<path d="M220.0,190.3 L221.0,190.4 L222.0,190.5 L223.0,190.6 L224.0,190.7 L225.0,190.7 L226.0,190.8 L227.0,190.8 L228.0,190.8 L229.0,190.8 L230.0,190.9 L231.0,191.0 L232.0,191.2 L233.0,191.6 L234.0,192.0 L235.0,192.5 L236.0,192.9 L237.0,193.4 L238.0,193.9 L239.0,194.3 L240.0,194.7 L241.0,195.2 L242.0,195.5 L243.0,195.6 L244.0,195.4 L245.0,195.1 L246.0,194.6 L247.0,194.0 L248.0,193.2 L249.0,192.2 L250.0,191.3 L251.0,190.4 L252.0,189.5 L253.0,188.5 L254.0,187.5 L255.0,186.4 L256.0,185.2 L257.0,183.9 L258.0,182.3 L259.0,180.5 L260.0,178.4 L261.0,176.1 L262.0,173.2 L263.0,169.4 L264.0,165.5 L265.0,161.9 L266.0,159.0 L267.0,156.8 L268.0,155.3 L269.0,154.1 L270.0,152.9 L271.0,152.0 L272.0,151.0 L273.0,149.7 L274.0,148.2 L275.0,146.4 L276.0,144.2 L277.0,141.7 L278.0,138.8 L279.0,136.1 L280.0,134.2 L281.0,134.1 L282.0,135.7 L283.0,137.7 L284.0,140.2 L285.0,143.0 L286.0,146.2 L287.0,149.4 L288.0,152.6 L289.0,156.0 L290.0,159.4 L291.0,162.6 L292.0,165.7 L293.0,168.7 L294.0,171.7 L295.0,174.5 L296.0,177.2 L297.0,179.9 L298.0,182.4 L299.0,184.9 L300.0,187.3 L301.0,189.5 L302.0,191.6 L303.0,193.5 L304.0,195.2 L305.0,196.9 L306.0,198.5 L307.0,200.3 L308.0,201.9 L309.0,203.3 L310.0,204.6 L311.0,205.6 L312.0,206.6 L313.0,207.5 L314.0,208.3 L315.0,208.9 L316.0,209.4 L317.0,209.7 L318.0,210.0 L319.0,210.2 L320.0,210.5 L321.0,210.8 L322.0,211.2 L323.0,211.7 L324.0,212.2 L325.0,212.6 L326.0,212.8 L327.0,212.9 L328.0,212.6 L329.0,212.0 L330.0,211.3 L331.0,210.4 L332.0,209.7 L333.0,209.0 L334.0,208.2 L335.0,207.3 L336.0,206.4 L337.0,205.5 L338.0,204.5" fill="none" stroke="#f27a4c" stroke-width="1.1" stroke-linejoin="round"/>
<path d="M220.0,190.3 L221.0,190.4 L222.0,190.5 L223.0,190.6 L224.0,190.7 L225.0,190.7 L226.0,190.8 L227.0,190.8 L228.0,190.8 L229.0,190.8 L230.0,190.9 L231.0,191.0 L232.0,191.2 L233.0,191.6 L234.0,192.0 L235.0,192.5 L236.0,192.9 L237.0,193.4 L238.0,193.9 L239.0,194.3 L240.0,194.7 L241.0,195.2 L242.0,195.5 L243.0,195.6 L244.0,195.4 L245.0,195.1 L246.0,194.6 L247.0,194.0 L248.0,193.2 L249.0,192.2 L250.0,191.3 L251.0,190.4 L252.0,189.5 L253.0,188.5 L254.0,187.5 L255.0,186.4 L256.0,185.2 L257.0,183.9 L258.0,182.3 L259.0,180.5 L260.0,178.4 L261.0,175.9 L262.0,172.7 L263.0,168.5 L264.0,164.4 L265.0,160.6 L266.0,157.7 L267.0,155.7 L268.0,154.3 L269.0,153.3 L270.0,152.3 L271.0,151.7 L272.0,150.9 L273.0,149.7 L274.0,148.3 L275.0,146.5 L276.0,144.3 L277.0,141.9 L278.0,139.0 L279.0,136.2 L280.0,134.1 L281.0,134.1 L282.0,135.7 L283.0,137.7 L284.0,140.2 L285.0,143.0 L286.0,146.2 L287.0,149.4 L288.0,152.6 L289.0,156.0 L290.0,159.4 L291.0,162.6 L292.0,165.7 L293.0,168.7 L294.0,171.7 L295.0,174.5 L296.0,177.2 L297.0,179.9 L298.0,182.4 L299.0,184.9 L300.0,187.3 L301.0,189.5 L302.0,191.6 L303.0,193.5 L304.0,195.2 L305.0,196.9 L306.0,198.5 L307.0,200.3 L308.0,201.9 L309.0,203.3 L310.0,204.6 L311.0,205.6 L312.0,206.6 L313.0,207.5 L314.0,208.3 L315.0,208.9 L316.0,209.4 L317.0,209.7 L318.0,210.0 L319.0,210.2 L320.0,210.5 L321.0,210.8 L322.0,211.2 L323.0,211.7 L324.0,212.2 L325.0,212.6 L326.0,212.8 L327.0,212.9 L328.0,212.6 L329.0,212.0 L330.0,211.3 L331.0,210.4 L332.0,209.7 L333.0,209.0 L334.0,208.2 L335.0,207.3 L336.0,206.4 L337.0,205.5 L338.0,204.5" fill="none" stroke="#ea4a48" stroke-width="1.1" stroke-linejoin="round"/>
<path d="M220.0,190.3 L221.0,190.4 L222.0,190.5 L223.0,190.6 L224.0,190.7 L225.0,190.7 L226.0,190.8 L227.0,190.8 L228.0,190.8 L229.0,190.8 L230.0,190.9 L231.0,191.0 L232.0,191.2 L233.0,191.6 L234.0,192.0 L235.0,192.5 L236.0,192.9 L237.0,193.4 L238.0,193.9 L239.0,194.3 L240.0,194.7 L241.0,195.2 L242.0,195.5 L243.0,195.6 L244.0,195.4 L245.0,195.1 L246.0,194.6 L247.0,194.0 L248.0,193.2 L249.0,192.2 L250.0,191.3 L251.0,190.4 L252.0,189.5 L253.0,188.5 L254.0,187.5 L255.0,186.4 L256.0,185.2 L257.0,183.9 L258.0,182.4 L259.0,180.6 L260.0,178.4 L261.0,175.7 L262.0,172.2 L263.0,167.7 L264.0,163.2 L265.0,159.2 L266.0,156.4 L267.0,154.5 L268.0,153.3 L269.0,152.5 L270.0,151.7 L271.0,151.3 L272.0,150.8 L273.0,149.8 L274.0,148.4 L275.0,146.6 L276.0,144.4 L277.0,142.0 L278.0,139.1 L279.0,136.3 L280.0,134.1 L281.0,134.1 L282.0,135.7 L283.0,137.7 L284.0,140.2 L285.0,143.0 L286.0,146.2 L287.0,149.4 L288.0,152.6 L289.0,156.0 L290.0,159.4 L291.0,162.6 L292.0,165.7 L293.0,168.7 L294.0,171.7 L295.0,174.5 L296.0,177.2 L297.0,179.9 L298.0,182.4 L299.0,184.9 L300.0,187.3 L301.0,189.5 L302.0,191.6 L303.0,193.5 L304.0,195.2 L305.0,196.9 L306.0,198.5 L307.0,200.3 L308.0,201.9 L309.0,203.3 L310.0,204.6 L311.0,205.6 L312.0,206.6 L313.0,207.5 L314.0,208.3 L315.0,208.9 L316.0,209.4 L317.0,209.7 L318.0,210.0 L319.0,210.2 L320.0,210.5 L321.0,210.8 L322.0,211.2 L323.0,211.7 L324.0,212.2 L325.0,212.6 L326.0,212.8 L327.0,212.9 L328.0,212.6 L329.0,212.0 L330.0,211.3 L331.0,210.4 L332.0,209.7 L333.0,209.0 L334.0,208.2 L335.0,207.3 L336.0,206.4 L337.0,205.5 L338.0,204.5" fill="none" stroke="#e6382f" stroke-width="1.1" stroke-linejoin="round"/>
<text x="212.50" y="136.32" font-size="5.6" text-anchor="end" fill="#222" stroke="#222" stroke-width="0.16">0</text>
<text x="212.50" y="155.77" font-size="5.6" text-anchor="end" fill="#222" stroke="#222" stroke-width="0.16">-10</text>
<text x="212.50" y="175.22" font-size="5.6" text-anchor="end" fill="#222" stroke="#222" stroke-width="0.16">-20</text>
<text x="212.50" y="194.67" font-size="5.6" text-anchor="end" fill="#222" stroke="#222" stroke-width="0.16">-30</text>
<text x="212.50" y="214.12" font-size="5.6" text-anchor="end" fill="#222" stroke="#222" stroke-width="0.16">-40</text>
<text x="220.10" y="223.62" font-size="5.6" text-anchor="middle" fill="#222" stroke="#222" stroke-width="0.16">0</text>
<text x="249.74" y="223.62" font-size="5.6" text-anchor="middle" fill="#222" stroke="#222" stroke-width="0.16">1000</text>
<text x="279.38" y="223.62" font-size="5.6" text-anchor="middle" fill="#222" stroke="#222" stroke-width="0.16">2000</text>
<text x="309.02" y="223.62" font-size="5.6" text-anchor="middle" fill="#222" stroke="#222" stroke-width="0.16">3000</text>
<text x="338.66" y="223.62" font-size="5.6" text-anchor="middle" fill="#222" stroke="#222" stroke-width="0.16">4000</text>
<text x="279.38" y="229.50" font-size="5.7" text-anchor="middle" fill="#222" stroke="#222" stroke-width="0.16">Distance (m)</text>
<text transform="translate(202.20,169.65) rotate(-90)" x="0" y="0" font-size="5.8" text-anchor="middle" fill="#222" stroke="#222" stroke-width="0.16">Water depth (m ODMain)</text>
<text x="217.10" y="126.50" font-size="6" font-weight="bold" fill="#111" stroke="#111" stroke-width="0.16">58'</text>
<text x="344.00" y="126.50" font-size="6" font-weight="bold" text-anchor="end" fill="#111" stroke="#111" stroke-width="0.16">58''</text>
<text x="191.5" y="215.30" font-size="6.2" fill="#222" stroke="#222" stroke-width="0.16">(c)</text>
<rect x="214.0" y="245.5" width="130.50" height="89.50" fill="#d9d9d9"/>
<line x1="235.00" y1="245.5" x2="235.00" y2="335.0" stroke="#e6e6e6" stroke-width="0.6"/>
<line x1="264.80" y1="245.5" x2="264.80" y2="335.0" stroke="#e6e6e6" stroke-width="0.6"/>
<line x1="294.60" y1="245.5" x2="294.60" y2="335.0" stroke="#e6e6e6" stroke-width="0.6"/>
<line x1="324.40" y1="245.5" x2="324.40" y2="335.0" stroke="#e6e6e6" stroke-width="0.6"/>
<line x1="214.0" y1="260.70" x2="344.5" y2="260.70" stroke="#e4e4e4" stroke-width="0.6"/>
<line x1="214.0" y1="281.30" x2="344.5" y2="281.30" stroke="#e4e4e4" stroke-width="0.6"/>
<line x1="214.0" y1="301.90" x2="344.5" y2="301.90" stroke="#e4e4e4" stroke-width="0.6"/>
<line x1="214.0" y1="322.50" x2="344.5" y2="322.50" stroke="#e4e4e4" stroke-width="0.6"/>
<line x1="220.10" y1="245.5" x2="220.10" y2="335.0" stroke="#686868" stroke-width="0.9" stroke-dasharray="1.6,1.4"/>
<line x1="249.90" y1="245.5" x2="249.90" y2="335.0" stroke="#686868" stroke-width="0.9" stroke-dasharray="1.6,1.4"/>
<line x1="279.70" y1="245.5" x2="279.70" y2="335.0" stroke="#686868" stroke-width="0.9" stroke-dasharray="1.6,1.4"/>
<line x1="309.50" y1="245.5" x2="309.50" y2="335.0" stroke="#686868" stroke-width="0.9" stroke-dasharray="1.6,1.4"/>
<line x1="339.30" y1="245.5" x2="339.30" y2="335.0" stroke="#686868" stroke-width="0.9" stroke-dasharray="1.6,1.4"/>
<line x1="214.0" y1="250.40" x2="344.5" y2="250.40" stroke="#686868" stroke-width="0.9" stroke-dasharray="1.6,1.4"/>
<line x1="214.0" y1="271.00" x2="344.5" y2="271.00" stroke="#686868" stroke-width="0.9" stroke-dasharray="1.6,1.4"/>
<line x1="214.0" y1="291.60" x2="344.5" y2="291.60" stroke="#686868" stroke-width="0.9" stroke-dasharray="1.6,1.4"/>
<line x1="214.0" y1="312.20" x2="344.5" y2="312.20" stroke="#686868" stroke-width="0.9" stroke-dasharray="1.6,1.4"/>
<line x1="214.0" y1="332.80" x2="344.5" y2="332.80" stroke="#686868" stroke-width="0.9" stroke-dasharray="1.6,1.4"/>
<line x1="214.0" y1="334.70" x2="344.5" y2="334.70" stroke="#999" stroke-width="0.6"/>
<line x1="214.30" y1="245.5" x2="214.30" y2="335.0" stroke="#bbb" stroke-width="0.6"/>
<line x1="344.20" y1="245.5" x2="344.20" y2="335.0" stroke="#bbb" stroke-width="0.6"/>
<path d="M220.00,315.92 C221.00,315.72 224.00,315.04 226.00,314.72 C228.00,314.40 230.20,314.04 232.00,314.00 C233.80,313.96 235.20,314.16 236.80,314.48 C238.40,314.80 240.00,315.40 241.60,315.92 C243.20,316.44 245.08,317.72 246.40,317.60 C247.72,317.48 248.52,316.20 249.52,315.20 C250.52,314.20 251.32,313.60 252.40,311.60 C253.48,309.60 254.80,306.20 256.00,303.20 C257.20,300.20 258.40,296.80 259.60,293.60 C260.80,290.40 262.00,287.20 263.20,284.00 C264.40,280.80 265.60,277.60 266.80,274.40 C268.00,271.20 269.20,267.80 270.40,264.80 C271.60,261.80 272.92,258.60 274.00,256.40 C275.08,254.20 276.08,252.68 276.88,251.60 C277.68,250.52 278.08,250.00 278.80,249.92 C279.52,249.84 280.40,250.36 281.20,251.12 C282.00,251.88 282.80,252.80 283.60,254.48 C284.40,256.16 285.20,258.68 286.00,261.20 C286.80,263.72 287.52,266.40 288.40,269.60 C289.28,272.80 290.28,277.00 291.28,280.40 C292.28,283.80 293.28,286.80 294.40,290.00 C295.52,293.20 296.80,296.60 298.00,299.60 C299.20,302.60 300.40,305.00 301.60,308.00 C302.80,311.00 304.00,314.80 305.20,317.60 C306.40,320.40 307.60,323.00 308.80,324.80 C310.00,326.60 311.20,327.72 312.40,328.40 C313.60,329.08 314.60,329.08 316.00,328.88 C317.40,328.68 319.20,328.00 320.80,327.20 C322.40,326.40 324.00,325.08 325.60,324.08 C327.20,323.08 329.00,321.76 330.40,321.20 C331.80,320.64 332.92,320.60 334.00,320.72 C335.08,320.84 336.00,321.36 336.88,321.92 C337.76,322.48 338.88,323.72 339.28,324.08" fill="none" stroke="#f8d84a" stroke-width="1.0" transform="translate(0.35,0.3)"/>
<path d="M220.00,315.92 C221.00,315.72 224.00,315.04 226.00,314.72 C228.00,314.40 230.20,314.04 232.00,314.00 C233.80,313.96 235.20,314.16 236.80,314.48 C238.40,314.80 240.00,315.40 241.60,315.92 C243.20,316.44 245.08,317.72 246.40,317.60 C247.72,317.48 248.52,316.20 249.52,315.20 C250.52,314.20 251.32,313.60 252.40,311.60 C253.48,309.60 254.80,306.20 256.00,303.20 C257.20,300.20 258.40,296.80 259.60,293.60 C260.80,290.40 262.00,287.20 263.20,284.00 C264.40,280.80 265.60,277.60 266.80,274.40 C268.00,271.20 269.20,267.80 270.40,264.80 C271.60,261.80 272.92,258.60 274.00,256.40 C275.08,254.20 276.08,252.68 276.88,251.60 C277.68,250.52 278.08,250.00 278.80,249.92 C279.52,249.84 280.40,250.36 281.20,251.12 C282.00,251.88 282.80,252.80 283.60,254.48 C284.40,256.16 285.20,258.68 286.00,261.20 C286.80,263.72 287.52,266.40 288.40,269.60 C289.28,272.80 290.28,277.00 291.28,280.40 C292.28,283.80 293.28,286.80 294.40,290.00 C295.52,293.20 296.80,296.60 298.00,299.60 C299.20,302.60 300.40,305.00 301.60,308.00 C302.80,311.00 304.00,314.80 305.20,317.60 C306.40,320.40 307.60,323.00 308.80,324.80 C310.00,326.60 311.20,327.72 312.40,328.40 C313.60,329.08 314.60,329.08 316.00,328.88 C317.40,328.68 319.20,328.00 320.80,327.20 C322.40,326.40 324.00,325.08 325.60,324.08 C327.20,323.08 329.00,321.76 330.40,321.20 C331.80,320.64 332.92,320.60 334.00,320.72 C335.08,320.84 336.00,321.36 336.88,321.92 C337.76,322.48 338.88,323.72 339.28,324.08" fill="none" stroke="#e53a36" stroke-width="1.05"/>
<text x="212.50" y="253.02" font-size="5.6" text-anchor="end" fill="#222" stroke="#222" stroke-width="0.16">0</text>
<text x="212.50" y="273.62" font-size="5.6" text-anchor="end" fill="#222" stroke="#222" stroke-width="0.16">-10</text>
<text x="212.50" y="294.22" font-size="5.6" text-anchor="end" fill="#222" stroke="#222" stroke-width="0.16">-20</text>
<text x="212.50" y="314.82" font-size="5.6" text-anchor="end" fill="#222" stroke="#222" stroke-width="0.16">-30</text>
<text x="212.50" y="335.42" font-size="5.6" text-anchor="end" fill="#222" stroke="#222" stroke-width="0.16">-40</text>
<text x="220.10" y="341.32" font-size="5.6" text-anchor="middle" fill="#222" stroke="#222" stroke-width="0.16">0</text>
<text x="249.90" y="341.32" font-size="5.6" text-anchor="middle" fill="#222" stroke="#222" stroke-width="0.16">1000</text>
<text x="279.70" y="341.32" font-size="5.6" text-anchor="middle" fill="#222" stroke="#222" stroke-width="0.16">2000</text>
<text x="309.50" y="341.32" font-size="5.6" text-anchor="middle" fill="#222" stroke="#222" stroke-width="0.16">3000</text>
<text x="339.30" y="341.32" font-size="5.6" text-anchor="middle" fill="#222" stroke="#222" stroke-width="0.16">4000</text>
<text x="279.70" y="347.20" font-size="5.7" text-anchor="middle" fill="#222" stroke="#222" stroke-width="0.16">Distance (m)</text>
<text transform="translate(202.20,286.75) rotate(-90)" x="0" y="0" font-size="5.8" text-anchor="middle" fill="#222" stroke="#222" stroke-width="0.16">Water depth (m ODMain)</text>
<text x="217.10" y="243.00" font-size="6" font-weight="bold" fill="#111" stroke="#111" stroke-width="0.16">65'</text>
<text x="344.00" y="243.00" font-size="6" font-weight="bold" text-anchor="end" fill="#111" stroke="#111" stroke-width="0.16">65''</text>
<text x="191.5" y="333.00" font-size="6.2" fill="#222" stroke="#222" stroke-width="0.16">(d)</text>
<rect x="214.0" y="359.6" width="130.50" height="89.90" fill="#d9d9d9"/>
<line x1="235.38" y1="359.6" x2="235.38" y2="449.5" stroke="#e6e6e6" stroke-width="0.6"/>
<line x1="265.14" y1="359.6" x2="265.14" y2="449.5" stroke="#e6e6e6" stroke-width="0.6"/>
<line x1="294.90" y1="359.6" x2="294.90" y2="449.5" stroke="#e6e6e6" stroke-width="0.6"/>
<line x1="324.66" y1="359.6" x2="324.66" y2="449.5" stroke="#e6e6e6" stroke-width="0.6"/>
<line x1="214.0" y1="373.20" x2="344.5" y2="373.20" stroke="#e4e4e4" stroke-width="0.6"/>
<line x1="214.0" y1="394.20" x2="344.5" y2="394.20" stroke="#e4e4e4" stroke-width="0.6"/>
<line x1="214.0" y1="415.20" x2="344.5" y2="415.20" stroke="#e4e4e4" stroke-width="0.6"/>
<line x1="214.0" y1="436.20" x2="344.5" y2="436.20" stroke="#e4e4e4" stroke-width="0.6"/>
<line x1="220.50" y1="359.6" x2="220.50" y2="449.5" stroke="#686868" stroke-width="0.9" stroke-dasharray="1.6,1.4"/>
<line x1="250.26" y1="359.6" x2="250.26" y2="449.5" stroke="#686868" stroke-width="0.9" stroke-dasharray="1.6,1.4"/>
<line x1="280.02" y1="359.6" x2="280.02" y2="449.5" stroke="#686868" stroke-width="0.9" stroke-dasharray="1.6,1.4"/>
<line x1="309.78" y1="359.6" x2="309.78" y2="449.5" stroke="#686868" stroke-width="0.9" stroke-dasharray="1.6,1.4"/>
<line x1="339.54" y1="359.6" x2="339.54" y2="449.5" stroke="#686868" stroke-width="0.9" stroke-dasharray="1.6,1.4"/>
<line x1="214.0" y1="362.70" x2="344.5" y2="362.70" stroke="#686868" stroke-width="0.9" stroke-dasharray="1.6,1.4"/>
<line x1="214.0" y1="383.70" x2="344.5" y2="383.70" stroke="#686868" stroke-width="0.9" stroke-dasharray="1.6,1.4"/>
<line x1="214.0" y1="404.70" x2="344.5" y2="404.70" stroke="#686868" stroke-width="0.9" stroke-dasharray="1.6,1.4"/>
<line x1="214.0" y1="425.70" x2="344.5" y2="425.70" stroke="#686868" stroke-width="0.9" stroke-dasharray="1.6,1.4"/>
<line x1="214.0" y1="446.70" x2="344.5" y2="446.70" stroke="#686868" stroke-width="0.9" stroke-dasharray="1.6,1.4"/>
<line x1="214.0" y1="449.20" x2="344.5" y2="449.20" stroke="#999" stroke-width="0.6"/>
<line x1="214.30" y1="359.6" x2="214.30" y2="449.5" stroke="#bbb" stroke-width="0.6"/>
<line x1="344.20" y1="359.6" x2="344.20" y2="449.5" stroke="#bbb" stroke-width="0.6"/>
<path d="M220.5,431.6 L221.5,431.9 L222.5,432.2 L223.5,432.5 L224.5,432.9 L225.5,433.1 L226.5,433.4 L227.5,433.6 L228.5,433.8 L229.5,434.0 L230.5,434.2 L231.5,434.4 L232.5,434.7 L233.5,434.9 L234.5,435.1 L235.5,435.2 L236.5,435.1 L237.5,434.9 L238.5,434.6 L239.5,434.3 L240.5,434.0 L241.5,433.6 L242.5,433.3 L243.5,432.7 L244.5,431.9 L245.5,430.8 L246.5,429.5 L247.5,428.2 L248.5,426.8 L249.5,425.4 L250.5,423.7 L251.5,421.5 L252.5,418.9 L253.5,416.3 L254.5,413.7 L255.5,411.0 L256.5,408.3 L257.5,405.7 L258.5,403.0 L259.5,400.3 L260.5,397.7 L261.5,395.0 L262.5,392.3 L263.5,389.6 L264.5,387.0 L265.5,384.6 L266.5,382.3 L267.5,380.0 L268.5,377.4 L269.5,374.6 L270.5,372.2 L271.5,370.3 L272.5,368.8 L273.5,367.9 L274.5,367.6 L275.5,367.5 L276.5,367.8 L277.5,368.0 L278.5,367.9 L279.5,366.3 L280.5,365.2 L281.5,364.6 L282.5,364.4 L283.5,364.7 L284.5,365.3 L285.5,366.2 L286.5,367.4 L287.5,368.9 L288.5,370.7 L289.5,373.0 L290.5,376.3 L291.5,381.1 L292.5,387.9 L293.5,395.8 L294.5,399.5 L295.5,403.1 L296.5,406.5 L297.5,409.9 L298.5,413.2 L299.5,416.5 L300.5,419.6 L301.5,422.5 L302.5,425.2 L303.5,427.7 L304.5,429.9 L305.5,431.8 L306.5,433.4 L307.5,434.8 L308.5,436.0 L309.5,437.2 L310.5,438.3 L311.5,439.3 L312.5,440.2 L313.5,441.1 L314.5,441.9 L315.5,442.7 L316.5,443.4 L317.5,443.9 L318.5,444.3 L319.5,444.6 L320.5,444.6 L321.5,444.6 L322.5,444.5 L323.5,444.3 L324.5,443.9 L325.5,443.5 L326.5,443.1 L327.5,442.6 L328.5,442.2 L329.5,441.8 L330.5,441.4 L331.5,441.0 L332.5,440.6 L333.5,440.2 L334.5,439.8 L335.5,439.4 L336.5,439.0 L337.5,438.8 L338.5,438.7 L339.5,438.6" fill="none" stroke="#fdf0bd" stroke-width="1.1" stroke-linejoin="round"/>
<path d="M220.5,431.6 L221.5,431.9 L222.5,432.2 L223.5,432.5 L224.5,432.9 L225.5,433.1 L226.5,433.4 L227.5,433.6 L228.5,433.8 L229.5,434.0 L230.5,434.2 L231.5,434.4 L232.5,434.7 L233.5,434.9 L234.5,435.1 L235.5,435.2 L236.5,435.1 L237.5,434.9 L238.5,434.6 L239.5,434.3 L240.5,434.0 L241.5,433.6 L242.5,433.3 L243.5,432.7 L244.5,431.9 L245.5,430.8 L246.5,429.5 L247.5,428.2 L248.5,426.8 L249.5,425.4 L250.5,423.7 L251.5,421.5 L252.5,418.9 L253.5,416.3 L254.5,413.7 L255.5,411.0 L256.5,408.3 L257.5,405.7 L258.5,403.0 L259.5,400.3 L260.5,397.7 L261.5,395.0 L262.5,392.3 L263.5,389.6 L264.5,387.0 L265.5,384.6 L266.5,382.3 L267.5,380.0 L268.5,377.5 L269.5,374.7 L270.5,372.2 L271.5,370.4 L272.5,368.9 L273.5,368.1 L274.5,367.7 L275.5,367.6 L276.5,367.8 L277.5,368.1 L278.5,368.0 L279.5,366.4 L280.5,365.3 L281.5,364.6 L282.5,364.4 L283.5,364.7 L284.5,365.4 L285.5,366.4 L286.5,367.7 L287.5,369.2 L288.5,371.1 L289.5,373.5 L290.5,377.0 L291.5,382.1 L292.5,388.5 L293.5,395.8 L294.5,399.5 L295.5,403.1 L296.5,406.5 L297.5,409.9 L298.5,413.2 L299.5,416.5 L300.5,419.6 L301.5,422.5 L302.5,425.2 L303.5,427.7 L304.5,429.9 L305.5,431.8 L306.5,433.4 L307.5,434.8 L308.5,436.0 L309.5,437.2 L310.5,438.3 L311.5,439.3 L312.5,440.2 L313.5,441.1 L314.5,441.9 L315.5,442.7 L316.5,443.4 L317.5,443.9 L318.5,444.3 L319.5,444.6 L320.5,444.6 L321.5,444.6 L322.5,444.5 L323.5,444.3 L324.5,443.9 L325.5,443.5 L326.5,443.1 L327.5,442.6 L328.5,442.2 L329.5,441.8 L330.5,441.4 L331.5,441.0 L332.5,440.6 L333.5,440.2 L334.5,439.8 L335.5,439.4 L336.5,439.0 L337.5,438.8 L338.5,438.7 L339.5,438.6" fill="none" stroke="#fbdc86" stroke-width="1.1" stroke-linejoin="round"/>
<path d="M220.5,431.6 L221.5,431.9 L222.5,432.2 L223.5,432.5 L224.5,432.9 L225.5,433.1 L226.5,433.4 L227.5,433.6 L228.5,433.8 L229.5,434.0 L230.5,434.2 L231.5,434.4 L232.5,434.7 L233.5,434.9 L234.5,435.1 L235.5,435.2 L236.5,435.1 L237.5,434.9 L238.5,434.6 L239.5,434.3 L240.5,434.0 L241.5,433.6 L242.5,433.3 L243.5,432.7 L244.5,431.9 L245.5,430.8 L246.5,429.5 L247.5,428.2 L248.5,426.8 L249.5,425.4 L250.5,423.7 L251.5,421.5 L252.5,418.9 L253.5,416.3 L254.5,413.7 L255.5,411.0 L256.5,408.3 L257.5,405.7 L258.5,403.0 L259.5,400.3 L260.5,397.7 L261.5,395.0 L262.5,392.3 L263.5,389.6 L264.5,387.0 L265.5,384.6 L266.5,382.3 L267.5,380.0 L268.5,377.5 L269.5,374.7 L270.5,372.3 L271.5,370.5 L272.5,369.1 L273.5,368.2 L274.5,367.8 L275.5,367.7 L276.5,367.9 L277.5,368.2 L278.5,368.1 L279.5,366.5 L280.5,365.3 L281.5,364.6 L282.5,364.4 L283.5,364.8 L284.5,365.6 L285.5,366.6 L286.5,367.9 L287.5,369.5 L288.5,371.5 L289.5,374.1 L290.5,377.8 L291.5,383.0 L292.5,389.2 L293.5,395.8 L294.5,399.5 L295.5,403.1 L296.5,406.5 L297.5,409.9 L298.5,413.2 L299.5,416.5 L300.5,419.6 L301.5,422.5 L302.5,425.2 L303.5,427.7 L304.5,429.9 L305.5,431.8 L306.5,433.4 L307.5,434.8 L308.5,436.0 L309.5,437.2 L310.5,438.3 L311.5,439.3 L312.5,440.2 L313.5,441.1 L314.5,441.9 L315.5,442.7 L316.5,443.4 L317.5,443.9 L318.5,444.3 L319.5,444.6 L320.5,444.6 L321.5,444.6 L322.5,444.5 L323.5,444.3 L324.5,443.9 L325.5,443.5 L326.5,443.1 L327.5,442.6 L328.5,442.2 L329.5,441.8 L330.5,441.4 L331.5,441.0 L332.5,440.6 L333.5,440.2 L334.5,439.8 L335.5,439.4 L336.5,439.0 L337.5,438.8 L338.5,438.7 L339.5,438.6" fill="none" stroke="#f9c06e" stroke-width="1.1" stroke-linejoin="round"/>
<path d="M220.5,431.6 L221.5,431.9 L222.5,432.2 L223.5,432.5 L224.5,432.9 L225.5,433.1 L226.5,433.4 L227.5,433.6 L228.5,433.8 L229.5,434.0 L230.5,434.2 L231.5,434.4 L232.5,434.7 L233.5,434.9 L234.5,435.1 L235.5,435.2 L236.5,435.1 L237.5,434.9 L238.5,434.6 L239.5,434.3 L240.5,434.0 L241.5,433.6 L242.5,433.3 L243.5,432.7 L244.5,431.9 L245.5,430.8 L246.5,429.5 L247.5,428.2 L248.5,426.8 L249.5,425.4 L250.5,423.7 L251.5,421.5 L252.5,418.9 L253.5,416.3 L254.5,413.7 L255.5,411.0 L256.5,408.3 L257.5,405.7 L258.5,403.0 L259.5,400.3 L260.5,397.7 L261.5,395.0 L262.5,392.3 L263.5,389.6 L264.5,387.0 L265.5,384.6 L266.5,382.3 L267.5,380.0 L268.5,377.5 L269.5,374.8 L270.5,372.4 L271.5,370.6 L272.5,369.2 L273.5,368.3 L274.5,367.9 L275.5,367.8 L276.5,368.0 L277.5,368.3 L278.5,368.2 L279.5,366.6 L280.5,365.4 L281.5,364.6 L282.5,364.4 L283.5,364.9 L284.5,365.7 L285.5,366.7 L286.5,368.1 L287.5,369.8 L288.5,371.9 L289.5,374.7 L290.5,378.5 L291.5,384.0 L292.5,389.8 L293.5,395.8 L294.5,399.5 L295.5,403.1 L296.5,406.5 L297.5,409.9 L298.5,413.2 L299.5,416.5 L300.5,419.6 L301.5,422.5 L302.5,425.2 L303.5,427.7 L304.5,429.9 L305.5,431.8 L306.5,433.4 L307.5,434.8 L308.5,436.0 L309.5,437.2 L310.5,438.3 L311.5,439.3 L312.5,440.2 L313.5,441.1 L314.5,441.9 L315.5,442.7 L316.5,443.4 L317.5,443.9 L318.5,444.3 L319.5,444.6 L320.5,444.6 L321.5,444.6 L322.5,444.5 L323.5,444.3 L324.5,443.9 L325.5,443.5 L326.5,443.1 L327.5,442.6 L328.5,442.2 L329.5,441.8 L330.5,441.4 L331.5,441.0 L332.5,440.6 L333.5,440.2 L334.5,439.8 L335.5,439.4 L336.5,439.0 L337.5,438.8 L338.5,438.7 L339.5,438.6" fill="none" stroke="#f7a05c" stroke-width="1.1" stroke-linejoin="round"/>
<path d="M220.5,431.6 L221.5,431.9 L222.5,432.2 L223.5,432.5 L224.5,432.9 L225.5,433.1 L226.5,433.4 L227.5,433.6 L228.5,433.8 L229.5,434.0 L230.5,434.2 L231.5,434.4 L232.5,434.7 L233.5,434.9 L234.5,435.1 L235.5,435.2 L236.5,435.1 L237.5,434.9 L238.5,434.6 L239.5,434.3 L240.5,434.0 L241.5,433.6 L242.5,433.3 L243.5,432.7 L244.5,431.9 L245.5,430.8 L246.5,429.5 L247.5,428.2 L248.5,426.8 L249.5,425.4 L250.5,423.7 L251.5,421.5 L252.5,418.9 L253.5,416.3 L254.5,413.7 L255.5,411.0 L256.5,408.3 L257.5,405.7 L258.5,403.0 L259.5,400.3 L260.5,397.7 L261.5,395.0 L262.5,392.3 L263.5,389.6 L264.5,387.0 L265.5,384.6 L266.5,382.3 L267.5,380.0 L268.5,377.5 L269.5,374.8 L270.5,372.5 L271.5,370.7 L272.5,369.3 L273.5,368.4 L274.5,368.0 L275.5,367.8 L276.5,368.1 L277.5,368.3 L278.5,368.2 L279.5,366.7 L280.5,365.4 L281.5,364.6 L282.5,364.4 L283.5,364.9 L284.5,365.8 L285.5,366.9 L286.5,368.3 L287.5,370.1 L288.5,372.3 L289.5,375.2 L290.5,379.3 L291.5,384.9 L292.5,390.5 L293.5,395.8 L294.5,399.5 L295.5,403.1 L296.5,406.5 L297.5,409.9 L298.5,413.2 L299.5,416.5 L300.5,419.6 L301.5,422.5 L302.5,425.2 L303.5,427.7 L304.5,429.9 L305.5,431.8 L306.5,433.4 L307.5,434.8 L308.5,436.0 L309.5,437.2 L310.5,438.3 L311.5,439.3 L312.5,440.2 L313.5,441.1 L314.5,441.9 L315.5,442.7 L316.5,443.4 L317.5,443.9 L318.5,444.3 L319.5,444.6 L320.5,444.6 L321.5,444.6 L322.5,444.5 L323.5,444.3 L324.5,443.9 L325.5,443.5 L326.5,443.1 L327.5,442.6 L328.5,442.2 L329.5,441.8 L330.5,441.4 L331.5,441.0 L332.5,440.6 L333.5,440.2 L334.5,439.8 L335.5,439.4 L336.5,439.0 L337.5,438.8 L338.5,438.7 L339.5,438.6" fill="none" stroke="#f27a4c" stroke-width="1.1" stroke-linejoin="round"/>
<path d="M220.5,431.6 L221.5,431.9 L222.5,432.2 L223.5,432.5 L224.5,432.9 L225.5,433.1 L226.5,433.4 L227.5,433.6 L228.5,433.8 L229.5,434.0 L230.5,434.2 L231.5,434.4 L232.5,434.7 L233.5,434.9 L234.5,435.1 L235.5,435.2 L236.5,435.1 L237.5,434.9 L238.5,434.6 L239.5,434.3 L240.5,434.0 L241.5,433.6 L242.5,433.3 L243.5,432.7 L244.5,431.9 L245.5,430.8 L246.5,429.5 L247.5,428.2 L248.5,426.8 L249.5,425.4 L250.5,423.7 L251.5,421.5 L252.5,418.9 L253.5,416.3 L254.5,413.7 L255.5,411.0 L256.5,408.3 L257.5,405.7 L258.5,403.0 L259.5,400.3 L260.5,397.7 L261.5,395.0 L262.5,392.3 L263.5,389.6 L264.5,387.0 L265.5,384.6 L266.5,382.3 L267.5,380.0 L268.5,377.6 L269.5,374.9 L270.5,372.6 L271.5,370.8 L272.5,369.4 L273.5,368.5 L274.5,368.1 L275.5,367.9 L276.5,368.1 L277.5,368.4 L278.5,368.3 L279.5,366.8 L280.5,365.5 L281.5,364.6 L282.5,364.4 L283.5,365.0 L284.5,365.9 L285.5,367.1 L286.5,368.6 L287.5,370.3 L288.5,372.6 L289.5,375.8 L290.5,380.0 L291.5,385.9 L292.5,391.1 L293.5,395.8 L294.5,399.5 L295.5,403.1 L296.5,406.5 L297.5,409.9 L298.5,413.2 L299.5,416.5 L300.5,419.6 L301.5,422.5 L302.5,425.2 L303.5,427.7 L304.5,429.9 L305.5,431.8 L306.5,433.4 L307.5,434.8 L308.5,436.0 L309.5,437.2 L310.5,438.3 L311.5,439.3 L312.5,440.2 L313.5,441.1 L314.5,441.9 L315.5,442.7 L316.5,443.4 L317.5,443.9 L318.5,444.3 L319.5,444.6 L320.5,444.6 L321.5,444.6 L322.5,444.5 L323.5,444.3 L324.5,443.9 L325.5,443.5 L326.5,443.1 L327.5,442.6 L328.5,442.2 L329.5,441.8 L330.5,441.4 L331.5,441.0 L332.5,440.6 L333.5,440.2 L334.5,439.8 L335.5,439.4 L336.5,439.0 L337.5,438.8 L338.5,438.7 L339.5,438.6" fill="none" stroke="#ea4a48" stroke-width="1.1" stroke-linejoin="round"/>
<path d="M220.5,431.6 L221.5,431.9 L222.5,432.2 L223.5,432.5 L224.5,432.9 L225.5,433.1 L226.5,433.4 L227.5,433.6 L228.5,433.8 L229.5,434.0 L230.5,434.2 L231.5,434.4 L232.5,434.7 L233.5,434.9 L234.5,435.1 L235.5,435.2 L236.5,435.1 L237.5,434.9 L238.5,434.6 L239.5,434.3 L240.5,434.0 L241.5,433.6 L242.5,433.3 L243.5,432.7 L244.5,431.9 L245.5,430.8 L246.5,429.5 L247.5,428.2 L248.5,426.8 L249.5,425.4 L250.5,423.7 L251.5,421.5 L252.5,418.9 L253.5,416.3 L254.5,413.7 L255.5,411.0 L256.5,408.3 L257.5,405.7 L258.5,403.0 L259.5,400.3 L260.5,397.7 L261.5,395.0 L262.5,392.3 L263.5,389.6 L264.5,387.0 L265.5,384.6 L266.5,382.3 L267.5,380.0 L268.5,377.6 L269.5,375.0 L270.5,372.6 L271.5,370.9 L272.5,369.5 L273.5,368.6 L274.5,368.1 L275.5,368.0 L276.5,368.2 L277.5,368.5 L278.5,368.4 L279.5,366.9 L280.5,365.5 L281.5,364.6 L282.5,364.4 L283.5,365.0 L284.5,366.0 L285.5,367.2 L286.5,368.8 L287.5,370.6 L288.5,373.0 L289.5,376.4 L290.5,380.8 L291.5,386.8 L292.5,391.7 L293.5,395.8 L294.5,399.5 L295.5,403.1 L296.5,406.5 L297.5,409.9 L298.5,413.2 L299.5,416.5 L300.5,419.6 L301.5,422.5 L302.5,425.2 L303.5,427.7 L304.5,429.9 L305.5,431.8 L306.5,433.4 L307.5,434.8 L308.5,436.0 L309.5,437.2 L310.5,438.3 L311.5,439.3 L312.5,440.2 L313.5,441.1 L314.5,441.9 L315.5,442.7 L316.5,443.4 L317.5,443.9 L318.5,444.3 L319.5,444.6 L320.5,444.6 L321.5,444.6 L322.5,444.5 L323.5,444.3 L324.5,443.9 L325.5,443.5 L326.5,443.1 L327.5,442.6 L328.5,442.2 L329.5,441.8 L330.5,441.4 L331.5,441.0 L332.5,440.6 L333.5,440.2 L334.5,439.8 L335.5,439.4 L336.5,439.0 L337.5,438.8 L338.5,438.7 L339.5,438.6" fill="none" stroke="#e6382f" stroke-width="1.1" stroke-linejoin="round"/>
<text x="212.50" y="365.32" font-size="5.6" text-anchor="end" fill="#222" stroke="#222" stroke-width="0.16">0</text>
<text x="212.50" y="386.32" font-size="5.6" text-anchor="end" fill="#222" stroke="#222" stroke-width="0.16">-10</text>
<text x="212.50" y="407.32" font-size="5.6" text-anchor="end" fill="#222" stroke="#222" stroke-width="0.16">-20</text>
<text x="212.50" y="428.32" font-size="5.6" text-anchor="end" fill="#222" stroke="#222" stroke-width="0.16">-30</text>
<text x="212.50" y="449.32" font-size="5.6" text-anchor="end" fill="#222" stroke="#222" stroke-width="0.16">-40</text>
<text x="220.50" y="455.82" font-size="5.6" text-anchor="middle" fill="#222" stroke="#222" stroke-width="0.16">0</text>
<text x="250.26" y="455.82" font-size="5.6" text-anchor="middle" fill="#222" stroke="#222" stroke-width="0.16">1000</text>
<text x="280.02" y="455.82" font-size="5.6" text-anchor="middle" fill="#222" stroke="#222" stroke-width="0.16">2000</text>
<text x="309.78" y="455.82" font-size="5.6" text-anchor="middle" fill="#222" stroke="#222" stroke-width="0.16">3000</text>
<text x="339.54" y="455.82" font-size="5.6" text-anchor="middle" fill="#222" stroke="#222" stroke-width="0.16">4000</text>
<text x="280.02" y="461.70" font-size="5.7" text-anchor="middle" fill="#222" stroke="#222" stroke-width="0.16">Distance (m)</text>
<text transform="translate(202.20,401.05) rotate(-90)" x="0" y="0" font-size="5.8" text-anchor="middle" fill="#222" stroke="#222" stroke-width="0.16">Water depth (m ODMain)</text>
<text x="217.50" y="357.10" font-size="6" font-weight="bold" fill="#111" stroke="#111" stroke-width="0.16">71'</text>
<text x="344.00" y="357.10" font-size="6" font-weight="bold" text-anchor="end" fill="#111" stroke="#111" stroke-width="0.16">71''</text>
<text x="191.5" y="447.50" font-size="6.2" fill="#222" stroke="#222" stroke-width="0.16">(e)</text>
<rect x="379.0" y="15.0" width="130.60" height="88.40" fill="#d9d9d9"/>
<line x1="399.88" y1="15.0" x2="399.88" y2="103.4" stroke="#e6e6e6" stroke-width="0.6"/>
<line x1="429.62" y1="15.0" x2="429.62" y2="103.4" stroke="#e6e6e6" stroke-width="0.6"/>
<line x1="459.38" y1="15.0" x2="459.38" y2="103.4" stroke="#e6e6e6" stroke-width="0.6"/>
<line x1="489.12" y1="15.0" x2="489.12" y2="103.4" stroke="#e6e6e6" stroke-width="0.6"/>
<line x1="379.0" y1="43.97" x2="509.6" y2="43.97" stroke="#e4e4e4" stroke-width="0.6"/>
<line x1="379.0" y1="64.62" x2="509.6" y2="64.62" stroke="#e4e4e4" stroke-width="0.6"/>
<line x1="379.0" y1="85.27" x2="509.6" y2="85.27" stroke="#e4e4e4" stroke-width="0.6"/>
<line x1="385.00" y1="15.0" x2="385.00" y2="103.4" stroke="#686868" stroke-width="0.9" stroke-dasharray="1.6,1.4"/>
<line x1="414.75" y1="15.0" x2="414.75" y2="103.4" stroke="#686868" stroke-width="0.9" stroke-dasharray="1.6,1.4"/>
<line x1="444.50" y1="15.0" x2="444.50" y2="103.4" stroke="#686868" stroke-width="0.9" stroke-dasharray="1.6,1.4"/>
<line x1="474.25" y1="15.0" x2="474.25" y2="103.4" stroke="#686868" stroke-width="0.9" stroke-dasharray="1.6,1.4"/>
<line x1="504.00" y1="15.0" x2="504.00" y2="103.4" stroke="#686868" stroke-width="0.9" stroke-dasharray="1.6,1.4"/>
<line x1="379.0" y1="33.65" x2="509.6" y2="33.65" stroke="#686868" stroke-width="0.9" stroke-dasharray="1.6,1.4"/>
<line x1="379.0" y1="54.30" x2="509.6" y2="54.30" stroke="#686868" stroke-width="0.9" stroke-dasharray="1.6,1.4"/>
<line x1="379.0" y1="74.95" x2="509.6" y2="74.95" stroke="#686868" stroke-width="0.9" stroke-dasharray="1.6,1.4"/>
<line x1="379.0" y1="95.60" x2="509.6" y2="95.60" stroke="#686868" stroke-width="0.9" stroke-dasharray="1.6,1.4"/>
<line x1="379.0" y1="103.10" x2="509.6" y2="103.10" stroke="#999" stroke-width="0.6"/>
<line x1="379.30" y1="15.0" x2="379.30" y2="103.4" stroke="#bbb" stroke-width="0.6"/>
<line x1="509.30" y1="15.0" x2="509.30" y2="103.4" stroke="#bbb" stroke-width="0.6"/>
<path d="M385.0,67.9 L386.0,68.0 L387.0,68.1 L388.0,68.2 L389.0,68.2 L390.0,68.3 L391.0,68.4 L392.0,68.5 L393.0,68.6 L394.0,68.8 L395.0,68.9 L396.0,68.9 L397.0,68.8 L398.0,68.6 L399.0,68.4 L400.0,68.3 L401.0,68.1 L402.0,67.9 L403.0,67.7 L404.0,67.7 L405.0,67.8 L406.0,68.1 L407.0,68.4 L408.0,68.7 L409.0,68.9 L410.0,69.2 L411.0,69.4 L412.0,69.6 L413.0,69.6 L414.0,69.4 L415.0,69.0 L416.0,68.5 L417.0,67.9 L418.0,67.1 L419.0,66.2 L420.0,65.0 L421.0,63.8 L422.0,62.3 L423.0,60.7 L424.0,58.9 L425.0,57.0 L426.0,54.9 L427.0,52.8 L428.0,50.8 L429.0,48.7 L430.0,46.7 L431.0,44.9 L432.0,43.2 L433.0,41.6 L434.0,39.8 L435.0,38.0 L436.0,36.1 L437.0,33.9 L438.0,31.3 L439.0,28.7 L440.0,26.5 L441.0,24.5 L442.0,22.8 L443.0,21.7 L444.0,20.9 L445.0,20.5 L446.0,20.2 L447.0,20.0 L448.0,19.9 L449.0,19.9 L450.0,19.9 L451.0,20.2 L452.0,20.6 L453.0,21.1 L454.0,22.0 L455.0,23.4 L456.0,25.7 L457.0,28.8 L458.0,32.7 L459.0,37.6 L460.0,43.9 L461.0,50.9 L462.0,58.5 L463.0,66.9 L464.0,69.6 L465.0,72.2 L466.0,74.5 L467.0,76.7 L468.0,78.7 L469.0,80.4 L470.0,81.9 L471.0,83.2 L472.0,84.4 L473.0,85.5 L474.0,86.6 L475.0,87.7 L476.0,88.7 L477.0,89.6 L478.0,90.6 L479.0,91.6 L480.0,92.7 L481.0,93.7 L482.0,94.6 L483.0,95.4 L484.0,96.1 L485.0,96.8 L486.0,97.3 L487.0,97.7 L488.0,98.1 L489.0,98.3 L490.0,98.5 L491.0,98.6 L492.0,98.3 L493.0,97.5 L494.0,96.3 L495.0,94.6 L496.0,92.5 L497.0,90.2 L498.0,87.6 L499.0,85.2 L500.0,83.2 L501.0,81.6 L502.0,80.5 L503.0,79.8 L504.0,79.2" fill="none" stroke="#fdf0bd" stroke-width="1.1" stroke-linejoin="round"/>
<path d="M385.0,67.9 L386.0,68.0 L387.0,68.1 L388.0,68.2 L389.0,68.2 L390.0,68.3 L391.0,68.4 L392.0,68.5 L393.0,68.6 L394.0,68.8 L395.0,68.9 L396.0,68.9 L397.0,68.8 L398.0,68.6 L399.0,68.4 L400.0,68.3 L401.0,68.1 L402.0,67.9 L403.0,67.7 L404.0,67.7 L405.0,67.8 L406.0,68.1 L407.0,68.4 L408.0,68.7 L409.0,68.9 L410.0,69.2 L411.0,69.4 L412.0,69.6 L413.0,69.6 L414.0,69.4 L415.0,69.0 L416.0,68.5 L417.0,67.9 L418.0,67.1 L419.0,66.2 L420.0,65.0 L421.0,63.8 L422.0,62.3 L423.0,60.7 L424.0,58.9 L425.0,57.0 L426.0,54.9 L427.0,52.8 L428.0,50.8 L429.0,48.7 L430.0,46.7 L431.0,44.8 L432.0,43.0 L433.0,41.3 L434.0,39.5 L435.0,37.5 L436.0,35.4 L437.0,33.0 L438.0,30.4 L439.0,27.8 L440.0,25.8 L441.0,24.0 L442.0,22.5 L443.0,21.5 L444.0,20.8 L445.0,20.5 L446.0,20.3 L447.0,20.2 L448.0,20.3 L449.0,20.5 L450.0,20.9 L451.0,21.4 L452.0,22.2 L453.0,23.3 L454.0,24.6 L455.0,26.4 L456.0,28.8 L457.0,32.0 L458.0,35.8 L459.0,40.5 L460.0,46.2 L461.0,52.6 L462.0,59.4 L463.0,66.9 L464.0,69.6 L465.0,72.2 L466.0,74.5 L467.0,76.7 L468.0,78.7 L469.0,80.4 L470.0,81.9 L471.0,83.2 L472.0,84.4 L473.0,85.5 L474.0,86.6 L475.0,87.7 L476.0,88.7 L477.0,89.6 L478.0,90.6 L479.0,91.6 L480.0,92.7 L481.0,93.7 L482.0,94.6 L483.0,95.4 L484.0,96.2 L485.0,96.8 L486.0,97.3 L487.0,97.7 L488.0,98.1 L489.0,98.3 L490.0,98.5 L491.0,98.6 L492.0,98.3 L493.0,97.5 L494.0,96.3 L495.0,94.6 L496.0,92.5 L497.0,90.2 L498.0,87.6 L499.0,85.2 L500.0,83.2 L501.0,81.6 L502.0,80.5 L503.0,79.8 L504.0,79.2" fill="none" stroke="#fbdc86" stroke-width="1.1" stroke-linejoin="round"/>
<path d="M385.0,67.9 L386.0,68.0 L387.0,68.1 L388.0,68.2 L389.0,68.2 L390.0,68.3 L391.0,68.4 L392.0,68.5 L393.0,68.6 L394.0,68.8 L395.0,68.9 L396.0,68.9 L397.0,68.8 L398.0,68.6 L399.0,68.4 L400.0,68.3 L401.0,68.1 L402.0,67.9 L403.0,67.7 L404.0,67.7 L405.0,67.8 L406.0,68.1 L407.0,68.4 L408.0,68.7 L409.0,68.9 L410.0,69.2 L411.0,69.4 L412.0,69.6 L413.0,69.6 L414.0,69.4 L415.0,69.0 L416.0,68.5 L417.0,67.9 L418.0,67.1 L419.0,66.2 L420.0,65.0 L421.0,63.8 L422.0,62.3 L423.0,60.7 L424.0,58.9 L425.0,57.0 L426.0,54.9 L427.0,52.8 L428.0,50.7 L429.0,48.7 L430.0,46.6 L431.0,44.7 L432.0,42.9 L433.0,41.1 L434.0,39.1 L435.0,36.9 L436.0,34.6 L437.0,32.2 L438.0,29.5 L439.0,27.0 L440.0,25.0 L441.0,23.5 L442.0,22.2 L443.0,21.3 L444.0,20.7 L445.0,20.5 L446.0,20.4 L447.0,20.4 L448.0,20.7 L449.0,21.1 L450.0,21.8 L451.0,22.7 L452.0,23.9 L453.0,25.4 L454.0,27.2 L455.0,29.3 L456.0,32.0 L457.0,35.2 L458.0,38.9 L459.0,43.3 L460.0,48.5 L461.0,54.2 L462.0,60.3 L463.0,66.9 L464.0,69.6 L465.0,72.2 L466.0,74.5 L467.0,76.7 L468.0,78.7 L469.0,80.4 L470.0,81.9 L471.0,83.2 L472.0,84.4 L473.0,85.5 L474.0,86.6 L475.0,87.7 L476.0,88.7 L477.0,89.6 L478.0,90.6 L479.0,91.6 L480.0,92.7 L481.0,93.7 L482.0,94.6 L483.0,95.4 L484.0,96.2 L485.0,96.8 L486.0,97.3 L487.0,97.7 L488.0,98.1 L489.0,98.3 L490.0,98.5 L491.0,98.6 L492.0,98.3 L493.0,97.5 L494.0,96.3 L495.0,94.6 L496.0,92.5 L497.0,90.2 L498.0,87.6 L499.0,85.2 L500.0,83.2 L501.0,81.6 L502.0,80.5 L503.0,79.8 L504.0,79.2" fill="none" stroke="#f9c06e" stroke-width="1.1" stroke-linejoin="round"/>
<path d="M385.0,67.9 L386.0,68.0 L387.0,68.1 L388.0,68.2 L389.0,68.2 L390.0,68.3 L391.0,68.4 L392.0,68.5 L393.0,68.6 L394.0,68.8 L395.0,68.9 L396.0,68.9 L397.0,68.8 L398.0,68.6 L399.0,68.4 L400.0,68.3 L401.0,68.1 L402.0,67.9 L403.0,67.7 L404.0,67.7 L405.0,67.8 L406.0,68.1 L407.0,68.4 L408.0,68.7 L409.0,68.9 L410.0,69.2 L411.0,69.4 L412.0,69.6 L413.0,69.6 L414.0,69.4 L415.0,69.0 L416.0,68.5 L417.0,67.9 L418.0,67.1 L419.0,66.2 L420.0,65.0 L421.0,63.8 L422.0,62.3 L423.0,60.7 L424.0,58.9 L425.0,57.0 L426.0,54.9 L427.0,52.8 L428.0,50.7 L429.0,48.6 L430.0,46.6 L431.0,44.6 L432.0,42.7 L433.0,40.8 L434.0,38.7 L435.0,36.4 L436.0,33.9 L437.0,31.4 L438.0,28.6 L439.0,26.1 L440.0,24.3 L441.0,22.9 L442.0,21.8 L443.0,21.1 L444.0,20.7 L445.0,20.5 L446.0,20.5 L447.0,20.7 L448.0,21.1 L449.0,21.8 L450.0,22.8 L451.0,24.0 L452.0,25.6 L453.0,27.5 L454.0,29.8 L455.0,32.2 L456.0,35.1 L457.0,38.4 L458.0,42.0 L459.0,46.1 L460.0,50.9 L461.0,55.9 L462.0,61.2 L463.0,66.9 L464.0,69.6 L465.0,72.2 L466.0,74.5 L467.0,76.7 L468.0,78.7 L469.0,80.4 L470.0,81.9 L471.0,83.2 L472.0,84.4 L473.0,85.5 L474.0,86.6 L475.0,87.7 L476.0,88.7 L477.0,89.6 L478.0,90.6 L479.0,91.6 L480.0,92.7 L481.0,93.7 L482.0,94.6 L483.0,95.4 L484.0,96.1 L485.0,96.8 L486.0,97.3 L487.0,97.7 L488.0,98.1 L489.0,98.3 L490.0,98.5 L491.0,98.6 L492.0,98.3 L493.0,97.5 L494.0,96.3 L495.0,94.6 L496.0,92.5 L497.0,90.2 L498.0,87.6 L499.0,85.2 L500.0,83.2 L501.0,81.6 L502.0,80.5 L503.0,79.8 L504.0,79.2" fill="none" stroke="#f7a05c" stroke-width="1.1" stroke-linejoin="round"/>
<path d="M385.0,67.9 L386.0,68.0 L387.0,68.1 L388.0,68.2 L389.0,68.2 L390.0,68.3 L391.0,68.4 L392.0,68.5 L393.0,68.6 L394.0,68.8 L395.0,68.9 L396.0,68.9 L397.0,68.8 L398.0,68.6 L399.0,68.4 L400.0,68.3 L401.0,68.1 L402.0,67.9 L403.0,67.7 L404.0,67.7 L405.0,67.8 L406.0,68.1 L407.0,68.4 L408.0,68.7 L409.0,68.9 L410.0,69.2 L411.0,69.4 L412.0,69.6 L413.0,69.6 L414.0,69.4 L415.0,69.0 L416.0,68.5 L417.0,67.9 L418.0,67.1 L419.0,66.2 L420.0,65.0 L421.0,63.8 L422.0,62.3 L423.0,60.7 L424.0,58.9 L425.0,57.0 L426.0,54.9 L427.0,52.8 L428.0,50.7 L429.0,48.6 L430.0,46.5 L431.0,44.5 L432.0,42.5 L433.0,40.6 L434.0,38.4 L435.0,35.9 L436.0,33.2 L437.0,30.5 L438.0,27.7 L439.0,25.2 L440.0,23.6 L441.0,22.4 L442.0,21.5 L443.0,20.9 L444.0,20.6 L445.0,20.5 L446.0,20.6 L447.0,20.9 L448.0,21.4 L449.0,22.4 L450.0,23.7 L451.0,25.3 L452.0,27.3 L453.0,29.6 L454.0,32.3 L455.0,35.1 L456.0,38.2 L457.0,41.6 L458.0,45.1 L459.0,49.0 L460.0,53.2 L461.0,57.6 L462.0,62.1 L463.0,66.9 L464.0,69.6 L465.0,72.2 L466.0,74.5 L467.0,76.7 L468.0,78.7 L469.0,80.4 L470.0,81.9 L471.0,83.2 L472.0,84.4 L473.0,85.5 L474.0,86.6 L475.0,87.7 L476.0,88.7 L477.0,89.6 L478.0,90.6 L479.0,91.6 L480.0,92.7 L481.0,93.7 L482.0,94.6 L483.0,95.4 L484.0,96.2 L485.0,96.8 L486.0,97.3 L487.0,97.7 L488.0,98.1 L489.0,98.3 L490.0,98.5 L491.0,98.6 L492.0,98.3 L493.0,97.5 L494.0,96.3 L495.0,94.6 L496.0,92.5 L497.0,90.2 L498.0,87.6 L499.0,85.2 L500.0,83.2 L501.0,81.6 L502.0,80.5 L503.0,79.8 L504.0,79.2" fill="none" stroke="#f27a4c" stroke-width="1.1" stroke-linejoin="round"/>
<path d="M385.0,67.9 L386.0,68.0 L387.0,68.1 L388.0,68.2 L389.0,68.2 L390.0,68.3 L391.0,68.4 L392.0,68.5 L393.0,68.6 L394.0,68.8 L395.0,68.9 L396.0,68.9 L397.0,68.8 L398.0,68.6 L399.0,68.4 L400.0,68.3 L401.0,68.1 L402.0,67.9 L403.0,67.7 L404.0,67.7 L405.0,67.8 L406.0,68.1 L407.0,68.4 L408.0,68.7 L409.0,68.9 L410.0,69.2 L411.0,69.4 L412.0,69.6 L413.0,69.6 L414.0,69.4 L415.0,69.0 L416.0,68.5 L417.0,67.9 L418.0,67.1 L419.0,66.2 L420.0,65.0 L421.0,63.8 L422.0,62.3 L423.0,60.7 L424.0,58.9 L425.0,57.0 L426.0,54.9 L427.0,52.8 L428.0,50.7 L429.0,48.6 L430.0,46.5 L431.0,44.4 L432.0,42.4 L433.0,40.3 L434.0,38.0 L435.0,35.3 L436.0,32.5 L437.0,29.7 L438.0,26.8 L439.0,24.4 L440.0,22.9 L441.0,21.9 L442.0,21.2 L443.0,20.7 L444.0,20.5 L445.0,20.5 L446.0,20.7 L447.0,21.1 L448.0,21.8 L449.0,23.1 L450.0,24.7 L451.0,26.6 L452.0,28.9 L453.0,31.7 L454.0,34.9 L455.0,38.1 L456.0,41.4 L457.0,44.8 L458.0,48.2 L459.0,51.8 L460.0,55.5 L461.0,59.3 L462.0,63.0 L463.0,66.9 L464.0,69.6 L465.0,72.2 L466.0,74.5 L467.0,76.7 L468.0,78.7 L469.0,80.4 L470.0,81.9 L471.0,83.2 L472.0,84.4 L473.0,85.5 L474.0,86.6 L475.0,87.7 L476.0,88.7 L477.0,89.6 L478.0,90.6 L479.0,91.6 L480.0,92.7 L481.0,93.7 L482.0,94.6 L483.0,95.4 L484.0,96.1 L485.0,96.8 L486.0,97.3 L487.0,97.7 L488.0,98.1 L489.0,98.3 L490.0,98.5 L491.0,98.6 L492.0,98.3 L493.0,97.5 L494.0,96.3 L495.0,94.6 L496.0,92.5 L497.0,90.2 L498.0,87.6 L499.0,85.2 L500.0,83.2 L501.0,81.6 L502.0,80.5 L503.0,79.8 L504.0,79.2" fill="none" stroke="#ea4a48" stroke-width="1.1" stroke-linejoin="round"/>
<path d="M385.0,67.9 L386.0,68.0 L387.0,68.1 L388.0,68.2 L389.0,68.2 L390.0,68.3 L391.0,68.4 L392.0,68.5 L393.0,68.6 L394.0,68.8 L395.0,68.9 L396.0,68.9 L397.0,68.8 L398.0,68.6 L399.0,68.4 L400.0,68.3 L401.0,68.1 L402.0,67.9 L403.0,67.7 L404.0,67.7 L405.0,67.8 L406.0,68.1 L407.0,68.4 L408.0,68.7 L409.0,68.9 L410.0,69.2 L411.0,69.4 L412.0,69.6 L413.0,69.6 L414.0,69.4 L415.0,69.0 L416.0,68.5 L417.0,67.9 L418.0,67.1 L419.0,66.2 L420.0,65.0 L421.0,63.8 L422.0,62.3 L423.0,60.7 L424.0,58.9 L425.0,57.0 L426.0,54.9 L427.0,52.8 L428.0,50.7 L429.0,48.6 L430.0,46.4 L431.0,44.3 L432.0,42.2 L433.0,40.1 L434.0,37.7 L435.0,34.8 L436.0,31.8 L437.0,28.8 L438.0,25.9 L439.0,23.5 L440.0,22.1 L441.0,21.4 L442.0,20.8 L443.0,20.5 L444.0,20.4 L445.0,20.5 L446.0,20.8 L447.0,21.3 L448.0,22.2 L449.0,23.7 L450.0,25.6 L451.0,27.9 L452.0,30.6 L453.0,33.8 L454.0,37.5 L455.0,41.0 L456.0,44.5 L457.0,48.0 L458.0,51.3 L459.0,54.6 L460.0,57.9 L461.0,61.0 L462.0,64.0 L463.0,66.9 L464.0,69.6 L465.0,72.2 L466.0,74.5 L467.0,76.7 L468.0,78.7 L469.0,80.4 L470.0,81.9 L471.0,83.2 L472.0,84.4 L473.0,85.5 L474.0,86.6 L475.0,87.7 L476.0,88.7 L477.0,89.6 L478.0,90.6 L479.0,91.6 L480.0,92.7 L481.0,93.7 L482.0,94.6 L483.0,95.4 L484.0,96.1 L485.0,96.8 L486.0,97.3 L487.0,97.7 L488.0,98.1 L489.0,98.3 L490.0,98.5 L491.0,98.6 L492.0,98.3 L493.0,97.5 L494.0,96.3 L495.0,94.6 L496.0,92.5 L497.0,90.2 L498.0,87.6 L499.0,85.2 L500.0,83.2 L501.0,81.6 L502.0,80.5 L503.0,79.8 L504.0,79.2" fill="none" stroke="#e6382f" stroke-width="1.1" stroke-linejoin="round"/>
<text x="377.50" y="36.27" font-size="5.6" text-anchor="end" fill="#222" stroke="#222" stroke-width="0.16">-10</text>
<text x="377.50" y="56.92" font-size="5.6" text-anchor="end" fill="#222" stroke="#222" stroke-width="0.16">-20</text>
<text x="377.50" y="77.57" font-size="5.6" text-anchor="end" fill="#222" stroke="#222" stroke-width="0.16">-30</text>
<text x="377.50" y="98.22" font-size="5.6" text-anchor="end" fill="#222" stroke="#222" stroke-width="0.16">-40</text>
<text x="385.00" y="109.72" font-size="5.6" text-anchor="middle" fill="#222" stroke="#222" stroke-width="0.16">0</text>
<text x="414.75" y="109.72" font-size="5.6" text-anchor="middle" fill="#222" stroke="#222" stroke-width="0.16">1000</text>
<text x="444.50" y="109.72" font-size="5.6" text-anchor="middle" fill="#222" stroke="#222" stroke-width="0.16">2000</text>
<text x="474.25" y="109.72" font-size="5.6" text-anchor="middle" fill="#222" stroke="#222" stroke-width="0.16">3000</text>
<text x="504.00" y="109.72" font-size="5.6" text-anchor="middle" fill="#222" stroke="#222" stroke-width="0.16">4000</text>
<text x="444.50" y="115.60" font-size="5.7" text-anchor="middle" fill="#222" stroke="#222" stroke-width="0.16">Distance (m)</text>
<text transform="translate(367.20,55.70) rotate(-90)" x="0" y="0" font-size="5.8" text-anchor="middle" fill="#222" stroke="#222" stroke-width="0.16">Water depth (m ODMain)</text>
<text x="382.00" y="12.50" font-size="6" font-weight="bold" fill="#111" stroke="#111" stroke-width="0.16">52'</text>
<text x="509.10" y="12.50" font-size="6" font-weight="bold" text-anchor="end" fill="#111" stroke="#111" stroke-width="0.16">52''</text>
<text x="356.5" y="101.40" font-size="6.2" fill="#222" stroke="#222" stroke-width="0.16">(f)</text>
<rect x="379.0" y="129.8" width="130.60" height="88.60" fill="#d9d9d9"/>
<line x1="399.24" y1="129.8" x2="399.24" y2="218.4" stroke="#e6e6e6" stroke-width="0.6"/>
<line x1="429.11" y1="129.8" x2="429.11" y2="218.4" stroke="#e6e6e6" stroke-width="0.6"/>
<line x1="458.98" y1="129.8" x2="458.98" y2="218.4" stroke="#e6e6e6" stroke-width="0.6"/>
<line x1="488.85" y1="129.8" x2="488.85" y2="218.4" stroke="#e6e6e6" stroke-width="0.6"/>
<line x1="379.0" y1="159.85" x2="509.6" y2="159.85" stroke="#e4e4e4" stroke-width="0.6"/>
<line x1="379.0" y1="180.75" x2="509.6" y2="180.75" stroke="#e4e4e4" stroke-width="0.6"/>
<line x1="379.0" y1="201.65" x2="509.6" y2="201.65" stroke="#e4e4e4" stroke-width="0.6"/>
<line x1="384.30" y1="129.8" x2="384.30" y2="218.4" stroke="#686868" stroke-width="0.9" stroke-dasharray="1.6,1.4"/>
<line x1="414.17" y1="129.8" x2="414.17" y2="218.4" stroke="#686868" stroke-width="0.9" stroke-dasharray="1.6,1.4"/>
<line x1="444.04" y1="129.8" x2="444.04" y2="218.4" stroke="#686868" stroke-width="0.9" stroke-dasharray="1.6,1.4"/>
<line x1="473.91" y1="129.8" x2="473.91" y2="218.4" stroke="#686868" stroke-width="0.9" stroke-dasharray="1.6,1.4"/>
<line x1="503.78" y1="129.8" x2="503.78" y2="218.4" stroke="#686868" stroke-width="0.9" stroke-dasharray="1.6,1.4"/>
<line x1="379.0" y1="149.40" x2="509.6" y2="149.40" stroke="#686868" stroke-width="0.9" stroke-dasharray="1.6,1.4"/>
<line x1="379.0" y1="170.30" x2="509.6" y2="170.30" stroke="#686868" stroke-width="0.9" stroke-dasharray="1.6,1.4"/>
<line x1="379.0" y1="191.20" x2="509.6" y2="191.20" stroke="#686868" stroke-width="0.9" stroke-dasharray="1.6,1.4"/>
<line x1="379.0" y1="212.10" x2="509.6" y2="212.10" stroke="#686868" stroke-width="0.9" stroke-dasharray="1.6,1.4"/>
<line x1="379.0" y1="218.10" x2="509.6" y2="218.10" stroke="#999" stroke-width="0.6"/>
<line x1="379.30" y1="129.8" x2="379.30" y2="218.4" stroke="#bbb" stroke-width="0.6"/>
<line x1="509.30" y1="129.8" x2="509.30" y2="218.4" stroke="#bbb" stroke-width="0.6"/>
<path d="M384.3,186.5 L385.3,186.3 L386.3,186.1 L387.3,185.9 L388.3,185.7 L389.3,185.5 L390.3,185.4 L391.3,185.2 L392.3,185.1 L393.3,185.0 L394.3,184.8 L395.3,184.7 L396.3,184.6 L397.3,184.6 L398.3,184.6 L399.3,184.6 L400.3,184.7 L401.3,184.8 L402.3,185.0 L403.3,185.1 L404.3,185.3 L405.3,185.5 L406.3,185.7 L407.3,185.9 L408.3,186.2 L409.3,186.5 L410.3,186.8 L411.3,187.2 L412.3,187.6 L413.3,188.3 L414.3,188.9 L415.3,188.8 L416.3,188.3 L417.3,187.3 L418.3,186.0 L419.3,184.2 L420.3,182.4 L421.3,180.7 L422.3,179.2 L423.3,177.6 L424.3,175.8 L425.3,173.8 L426.3,171.7 L427.3,169.3 L428.3,167.1 L429.3,164.6 L430.3,162.1 L431.3,159.7 L432.3,157.3 L433.3,155.0 L434.3,152.7 L435.3,150.6 L436.3,148.5 L437.3,146.5 L438.3,144.4 L439.3,142.2 L440.3,140.3 L441.3,138.4 L442.3,136.8 L443.3,135.6 L444.3,134.5 L445.3,133.8 L446.3,133.6 L447.3,133.8 L448.3,134.3 L449.3,135.6 L450.3,137.6 L451.3,139.8 L452.3,142.3 L453.3,144.9 L454.3,147.5 L455.3,150.3 L456.3,153.7 L457.3,157.7 L458.3,162.9 L459.3,167.0 L460.3,171.0 L461.3,174.9 L462.3,178.7 L463.3,182.1 L464.3,185.4 L465.3,188.4 L466.3,191.2 L467.3,193.6 L468.3,195.7 L469.3,197.6 L470.3,199.3 L471.3,200.9 L472.3,202.2 L473.3,203.4 L474.3,204.5 L475.3,205.3 L476.3,206.0 L477.3,206.8 L478.3,207.7 L479.3,208.7 L480.3,209.7 L481.3,210.8 L482.3,212.0 L483.3,212.8 L484.3,212.8 L485.3,212.3 L486.3,211.6 L487.3,210.7 L488.3,209.8 L489.3,208.9 L490.3,208.0 L491.3,206.9 L492.3,205.9 L493.3,204.9 L494.3,203.9 L495.3,202.9 L496.3,201.9 L497.3,200.9 L498.3,199.9 L499.3,198.8 L500.3,197.9 L501.3,197.2 L502.3,196.7 L503.3,196.1" fill="none" stroke="#fdf0bd" stroke-width="1.1" stroke-linejoin="round"/>
<path d="M384.3,186.5 L385.3,186.3 L386.3,186.1 L387.3,185.9 L388.3,185.7 L389.3,185.5 L390.3,185.4 L391.3,185.2 L392.3,185.1 L393.3,185.0 L394.3,184.8 L395.3,184.7 L396.3,184.6 L397.3,184.6 L398.3,184.6 L399.3,184.6 L400.3,184.7 L401.3,184.8 L402.3,185.0 L403.3,185.1 L404.3,185.3 L405.3,185.5 L406.3,185.7 L407.3,185.9 L408.3,186.2 L409.3,186.5 L410.3,186.8 L411.3,187.2 L412.3,187.6 L413.3,188.3 L414.3,188.9 L415.3,188.8 L416.3,188.3 L417.3,187.3 L418.3,186.0 L419.3,184.2 L420.3,182.4 L421.3,180.7 L422.3,179.2 L423.3,177.6 L424.3,175.8 L425.3,173.8 L426.3,171.7 L427.3,169.3 L428.3,166.8 L429.3,163.6 L430.3,160.0 L431.3,156.4 L432.3,152.7 L433.3,149.1 L434.3,145.7 L435.3,143.3 L436.3,141.8 L437.3,140.6 L438.3,139.9 L439.3,139.3 L440.3,139.0 L441.3,138.9 L442.3,138.9 L443.3,139.1 L444.3,139.4 L445.3,139.6 L446.3,140.0 L447.3,140.4 L448.3,141.0 L449.3,141.9 L450.3,143.2 L451.3,144.6 L452.3,146.2 L453.3,148.0 L454.3,150.0 L455.3,152.2 L456.3,155.1 L457.3,158.7 L458.3,162.9 L459.3,167.0 L460.3,171.0 L461.3,174.9 L462.3,178.7 L463.3,182.1 L464.3,185.4 L465.3,188.4 L466.3,191.2 L467.3,193.6 L468.3,195.7 L469.3,197.6 L470.3,199.3 L471.3,200.9 L472.3,202.2 L473.3,203.4 L474.3,204.5 L475.3,205.3 L476.3,206.0 L477.3,206.8 L478.3,207.7 L479.3,208.7 L480.3,209.7 L481.3,210.8 L482.3,212.0 L483.3,212.8 L484.3,212.8 L485.3,212.3 L486.3,211.6 L487.3,210.7 L488.3,209.8 L489.3,208.9 L490.3,208.0 L491.3,206.9 L492.3,205.9 L493.3,204.9 L494.3,203.9 L495.3,202.9 L496.3,201.9 L497.3,200.9 L498.3,199.9 L499.3,198.8 L500.3,197.9 L501.3,197.2 L502.3,196.7 L503.3,196.1" fill="none" stroke="#fbdc86" stroke-width="1.1" stroke-linejoin="round"/>
<path d="M384.3,186.5 L385.3,186.3 L386.3,186.1 L387.3,185.9 L388.3,185.7 L389.3,185.5 L390.3,185.4 L391.3,185.2 L392.3,185.1 L393.3,185.0 L394.3,184.8 L395.3,184.7 L396.3,184.6 L397.3,184.6 L398.3,184.6 L399.3,184.6 L400.3,184.7 L401.3,184.8 L402.3,185.0 L403.3,185.1 L404.3,185.3 L405.3,185.5 L406.3,185.7 L407.3,185.9 L408.3,186.2 L409.3,186.5 L410.3,186.8 L411.3,187.2 L412.3,187.6 L413.3,188.3 L414.3,188.9 L415.3,188.8 L416.3,188.3 L417.3,187.3 L418.3,186.0 L419.3,184.2 L420.3,182.4 L421.3,180.7 L422.3,179.2 L423.3,177.6 L424.3,175.8 L425.3,173.8 L426.3,171.7 L427.3,169.3 L428.3,166.7 L429.3,163.4 L430.3,159.6 L431.3,155.7 L432.3,151.7 L433.3,147.9 L434.3,144.4 L435.3,141.9 L436.3,140.4 L437.3,139.5 L438.3,139.0 L439.3,138.7 L440.3,138.8 L441.3,139.0 L442.3,139.4 L443.3,139.8 L444.3,140.3 L445.3,140.8 L446.3,141.2 L447.3,141.7 L448.3,142.3 L449.3,143.2 L450.3,144.3 L451.3,145.6 L452.3,147.0 L453.3,148.7 L454.3,150.5 L455.3,152.6 L456.3,155.4 L457.3,158.8 L458.3,162.9 L459.3,167.0 L460.3,171.0 L461.3,174.9 L462.3,178.7 L463.3,182.1 L464.3,185.4 L465.3,188.4 L466.3,191.2 L467.3,193.6 L468.3,195.7 L469.3,197.6 L470.3,199.3 L471.3,200.9 L472.3,202.2 L473.3,203.4 L474.3,204.5 L475.3,205.3 L476.3,206.0 L477.3,206.8 L478.3,207.7 L479.3,208.7 L480.3,209.7 L481.3,210.8 L482.3,212.0 L483.3,212.8 L484.3,212.8 L485.3,212.3 L486.3,211.6 L487.3,210.7 L488.3,209.8 L489.3,208.9 L490.3,208.0 L491.3,206.9 L492.3,205.9 L493.3,204.9 L494.3,203.9 L495.3,202.9 L496.3,201.9 L497.3,200.9 L498.3,199.9 L499.3,198.8 L500.3,197.9 L501.3,197.2 L502.3,196.7 L503.3,196.1" fill="none" stroke="#f9c06e" stroke-width="1.1" stroke-linejoin="round"/>
<path d="M384.3,186.5 L385.3,186.3 L386.3,186.1 L387.3,185.9 L388.3,185.7 L389.3,185.5 L390.3,185.4 L391.3,185.2 L392.3,185.1 L393.3,185.0 L394.3,184.8 L395.3,184.7 L396.3,184.6 L397.3,184.6 L398.3,184.6 L399.3,184.6 L400.3,184.7 L401.3,184.8 L402.3,185.0 L403.3,185.1 L404.3,185.3 L405.3,185.5 L406.3,185.7 L407.3,185.9 L408.3,186.2 L409.3,186.5 L410.3,186.8 L411.3,187.2 L412.3,187.6 L413.3,188.3 L414.3,188.9 L415.3,188.8 L416.3,188.3 L417.3,187.3 L418.3,186.0 L419.3,184.2 L420.3,182.4 L421.3,180.7 L422.3,179.2 L423.3,177.6 L424.3,175.8 L425.3,173.8 L426.3,171.7 L427.3,169.3 L428.3,166.6 L429.3,163.3 L430.3,159.2 L431.3,155.2 L432.3,151.0 L433.3,147.0 L434.3,143.2 L435.3,140.6 L436.3,139.3 L437.3,138.5 L438.3,138.2 L439.3,138.3 L440.3,138.6 L441.3,139.1 L442.3,139.7 L443.3,140.4 L444.3,141.1 L445.3,141.8 L446.3,142.3 L447.3,142.8 L448.3,143.4 L449.3,144.3 L450.3,145.3 L451.3,146.4 L452.3,147.7 L453.3,149.2 L454.3,150.9 L455.3,152.9 L456.3,155.6 L457.3,159.0 L458.3,162.9 L459.3,167.0 L460.3,171.0 L461.3,174.9 L462.3,178.7 L463.3,182.1 L464.3,185.4 L465.3,188.4 L466.3,191.2 L467.3,193.6 L468.3,195.7 L469.3,197.6 L470.3,199.3 L471.3,200.9 L472.3,202.2 L473.3,203.4 L474.3,204.5 L475.3,205.3 L476.3,206.0 L477.3,206.8 L478.3,207.7 L479.3,208.7 L480.3,209.7 L481.3,210.8 L482.3,212.0 L483.3,212.8 L484.3,212.8 L485.3,212.3 L486.3,211.6 L487.3,210.7 L488.3,209.8 L489.3,208.9 L490.3,208.0 L491.3,206.9 L492.3,205.9 L493.3,204.9 L494.3,203.9 L495.3,202.9 L496.3,201.9 L497.3,200.9 L498.3,199.9 L499.3,198.8 L500.3,197.9 L501.3,197.2 L502.3,196.7 L503.3,196.1" fill="none" stroke="#f7a05c" stroke-width="1.1" stroke-linejoin="round"/>
<path d="M384.3,186.5 L385.3,186.3 L386.3,186.1 L387.3,185.9 L388.3,185.7 L389.3,185.5 L390.3,185.4 L391.3,185.2 L392.3,185.1 L393.3,185.0 L394.3,184.8 L395.3,184.7 L396.3,184.6 L397.3,184.6 L398.3,184.6 L399.3,184.6 L400.3,184.7 L401.3,184.8 L402.3,185.0 L403.3,185.1 L404.3,185.3 L405.3,185.5 L406.3,185.7 L407.3,185.9 L408.3,186.2 L409.3,186.5 L410.3,186.8 L411.3,187.2 L412.3,187.6 L413.3,188.3 L414.3,188.9 L415.3,188.8 L416.3,188.3 L417.3,187.3 L418.3,186.0 L419.3,184.2 L420.3,182.4 L421.3,180.7 L422.3,179.2 L423.3,177.6 L424.3,175.8 L425.3,173.8 L426.3,171.7 L427.3,169.3 L428.3,166.6 L429.3,163.1 L430.3,158.9 L431.3,154.7 L432.3,150.3 L433.3,146.2 L434.3,142.3 L435.3,139.7 L436.3,138.4 L437.3,137.7 L438.3,137.6 L439.3,137.9 L440.3,138.4 L441.3,139.2 L442.3,140.0 L443.3,140.9 L444.3,141.8 L445.3,142.5 L446.3,143.1 L447.3,143.7 L448.3,144.3 L449.3,145.1 L450.3,146.0 L451.3,147.0 L452.3,148.2 L453.3,149.6 L454.3,151.2 L455.3,153.2 L456.3,155.8 L457.3,159.1 L458.3,162.9 L459.3,167.0 L460.3,171.0 L461.3,174.9 L462.3,178.7 L463.3,182.1 L464.3,185.4 L465.3,188.4 L466.3,191.2 L467.3,193.6 L468.3,195.7 L469.3,197.6 L470.3,199.3 L471.3,200.9 L472.3,202.2 L473.3,203.4 L474.3,204.5 L475.3,205.3 L476.3,206.0 L477.3,206.8 L478.3,207.7 L479.3,208.7 L480.3,209.7 L481.3,210.8 L482.3,212.0 L483.3,212.8 L484.3,212.8 L485.3,212.3 L486.3,211.6 L487.3,210.7 L488.3,209.8 L489.3,208.9 L490.3,208.0 L491.3,206.9 L492.3,205.9 L493.3,204.9 L494.3,203.9 L495.3,202.9 L496.3,201.9 L497.3,200.9 L498.3,199.9 L499.3,198.8 L500.3,197.9 L501.3,197.2 L502.3,196.7 L503.3,196.1" fill="none" stroke="#f27a4c" stroke-width="1.1" stroke-linejoin="round"/>
<path d="M384.3,186.5 L385.3,186.3 L386.3,186.1 L387.3,185.9 L388.3,185.7 L389.3,185.5 L390.3,185.4 L391.3,185.2 L392.3,185.1 L393.3,185.0 L394.3,184.8 L395.3,184.7 L396.3,184.6 L397.3,184.6 L398.3,184.6 L399.3,184.6 L400.3,184.7 L401.3,184.8 L402.3,185.0 L403.3,185.1 L404.3,185.3 L405.3,185.5 L406.3,185.7 L407.3,185.9 L408.3,186.2 L409.3,186.5 L410.3,186.8 L411.3,187.2 L412.3,187.6 L413.3,188.3 L414.3,188.9 L415.3,188.8 L416.3,188.3 L417.3,187.3 L418.3,186.0 L419.3,184.2 L420.3,182.4 L421.3,180.7 L422.3,179.2 L423.3,177.6 L424.3,175.8 L425.3,173.8 L426.3,171.7 L427.3,169.3 L428.3,166.6 L429.3,163.0 L430.3,158.8 L431.3,154.5 L432.3,150.0 L433.3,145.7 L434.3,141.7 L435.3,139.1 L436.3,137.8 L437.3,137.2 L438.3,137.2 L439.3,137.6 L440.3,138.3 L441.3,139.2 L442.3,140.2 L443.3,141.2 L444.3,142.2 L445.3,143.0 L446.3,143.7 L447.3,144.2 L448.3,144.9 L449.3,145.7 L450.3,146.5 L451.3,147.4 L452.3,148.6 L453.3,149.9 L454.3,151.4 L455.3,153.4 L456.3,155.9 L457.3,159.2 L458.3,162.9 L459.3,167.0 L460.3,171.0 L461.3,174.9 L462.3,178.7 L463.3,182.1 L464.3,185.4 L465.3,188.4 L466.3,191.2 L467.3,193.6 L468.3,195.7 L469.3,197.6 L470.3,199.3 L471.3,200.9 L472.3,202.2 L473.3,203.4 L474.3,204.5 L475.3,205.3 L476.3,206.0 L477.3,206.8 L478.3,207.7 L479.3,208.7 L480.3,209.7 L481.3,210.8 L482.3,212.0 L483.3,212.8 L484.3,212.8 L485.3,212.3 L486.3,211.6 L487.3,210.7 L488.3,209.8 L489.3,208.9 L490.3,208.0 L491.3,206.9 L492.3,205.9 L493.3,204.9 L494.3,203.9 L495.3,202.9 L496.3,201.9 L497.3,200.9 L498.3,199.9 L499.3,198.8 L500.3,197.9 L501.3,197.2 L502.3,196.7 L503.3,196.1" fill="none" stroke="#ea4a48" stroke-width="1.1" stroke-linejoin="round"/>
<path d="M384.3,186.5 L385.3,186.3 L386.3,186.1 L387.3,185.9 L388.3,185.7 L389.3,185.5 L390.3,185.4 L391.3,185.2 L392.3,185.1 L393.3,185.0 L394.3,184.8 L395.3,184.7 L396.3,184.6 L397.3,184.6 L398.3,184.6 L399.3,184.6 L400.3,184.7 L401.3,184.8 L402.3,185.0 L403.3,185.1 L404.3,185.3 L405.3,185.5 L406.3,185.7 L407.3,185.9 L408.3,186.2 L409.3,186.5 L410.3,186.8 L411.3,187.2 L412.3,187.6 L413.3,188.3 L414.3,188.9 L415.3,188.8 L416.3,188.3 L417.3,187.3 L418.3,186.0 L419.3,184.2 L420.3,182.4 L421.3,180.7 L422.3,179.2 L423.3,177.6 L424.3,175.8 L425.3,173.8 L426.3,171.7 L427.3,169.3 L428.3,166.6 L429.3,163.0 L430.3,158.6 L431.3,154.2 L432.3,149.6 L433.3,145.2 L434.3,141.1 L435.3,138.5 L436.3,137.2 L437.3,136.7 L438.3,136.9 L439.3,137.4 L440.3,138.2 L441.3,139.3 L442.3,140.4 L443.3,141.5 L444.3,142.6 L445.3,143.5 L446.3,144.2 L447.3,144.8 L448.3,145.4 L449.3,146.2 L450.3,147.0 L451.3,147.8 L452.3,148.9 L453.3,150.2 L454.3,151.6 L455.3,153.5 L456.3,156.0 L457.3,159.3 L458.3,162.9 L459.3,167.0 L460.3,171.0 L461.3,174.9 L462.3,178.7 L463.3,182.1 L464.3,185.4 L465.3,188.4 L466.3,191.2 L467.3,193.6 L468.3,195.7 L469.3,197.6 L470.3,199.3 L471.3,200.9 L472.3,202.2 L473.3,203.4 L474.3,204.5 L475.3,205.3 L476.3,206.0 L477.3,206.8 L478.3,207.7 L479.3,208.7 L480.3,209.7 L481.3,210.8 L482.3,212.0 L483.3,212.8 L484.3,212.8 L485.3,212.3 L486.3,211.6 L487.3,210.7 L488.3,209.8 L489.3,208.9 L490.3,208.0 L491.3,206.9 L492.3,205.9 L493.3,204.9 L494.3,203.9 L495.3,202.9 L496.3,201.9 L497.3,200.9 L498.3,199.9 L499.3,198.8 L500.3,197.9 L501.3,197.2 L502.3,196.7 L503.3,196.1" fill="none" stroke="#e6382f" stroke-width="1.1" stroke-linejoin="round"/>
<text x="377.50" y="152.02" font-size="5.6" text-anchor="end" fill="#222" stroke="#222" stroke-width="0.16">-10</text>
<text x="377.50" y="172.92" font-size="5.6" text-anchor="end" fill="#222" stroke="#222" stroke-width="0.16">-20</text>
<text x="377.50" y="193.82" font-size="5.6" text-anchor="end" fill="#222" stroke="#222" stroke-width="0.16">-30</text>
<text x="377.50" y="214.72" font-size="5.6" text-anchor="end" fill="#222" stroke="#222" stroke-width="0.16">-40</text>
<text x="384.30" y="224.72" font-size="5.6" text-anchor="middle" fill="#222" stroke="#222" stroke-width="0.16">0</text>
<text x="414.17" y="224.72" font-size="5.6" text-anchor="middle" fill="#222" stroke="#222" stroke-width="0.16">1000</text>
<text x="444.04" y="224.72" font-size="5.6" text-anchor="middle" fill="#222" stroke="#222" stroke-width="0.16">2000</text>
<text x="473.91" y="224.72" font-size="5.6" text-anchor="middle" fill="#222" stroke="#222" stroke-width="0.16">3000</text>
<text x="503.78" y="224.72" font-size="5.6" text-anchor="middle" fill="#222" stroke="#222" stroke-width="0.16">4000</text>
<text x="444.04" y="230.60" font-size="5.7" text-anchor="middle" fill="#222" stroke="#222" stroke-width="0.16">Distance (m)</text>
<text transform="translate(367.20,170.60) rotate(-90)" x="0" y="0" font-size="5.8" text-anchor="middle" fill="#222" stroke="#222" stroke-width="0.16">Water depth (m ODMain)</text>
<text x="381.30" y="127.30" font-size="6" font-weight="bold" fill="#111" stroke="#111" stroke-width="0.16">54'</text>
<text x="509.10" y="127.30" font-size="6" font-weight="bold" text-anchor="end" fill="#111" stroke="#111" stroke-width="0.16">54''</text>
<text x="356.5" y="216.40" font-size="6.2" fill="#222" stroke="#222" stroke-width="0.16">(g)</text>
<rect x="379.0" y="244.8" width="130.60" height="89.70" fill="#d9d9d9"/>
<line x1="398.65" y1="244.8" x2="398.65" y2="334.5" stroke="#e6e6e6" stroke-width="0.6"/>
<line x1="428.55" y1="244.8" x2="428.55" y2="334.5" stroke="#e6e6e6" stroke-width="0.6"/>
<line x1="458.45" y1="244.8" x2="458.45" y2="334.5" stroke="#e6e6e6" stroke-width="0.6"/>
<line x1="488.35" y1="244.8" x2="488.35" y2="334.5" stroke="#e6e6e6" stroke-width="0.6"/>
<line x1="379.0" y1="277.20" x2="509.6" y2="277.20" stroke="#e4e4e4" stroke-width="0.6"/>
<line x1="379.0" y1="299.00" x2="509.6" y2="299.00" stroke="#e4e4e4" stroke-width="0.6"/>
<line x1="379.0" y1="320.80" x2="509.6" y2="320.80" stroke="#e4e4e4" stroke-width="0.6"/>
<line x1="383.70" y1="244.8" x2="383.70" y2="334.5" stroke="#686868" stroke-width="0.9" stroke-dasharray="1.6,1.4"/>
<line x1="413.60" y1="244.8" x2="413.60" y2="334.5" stroke="#686868" stroke-width="0.9" stroke-dasharray="1.6,1.4"/>
<line x1="443.50" y1="244.8" x2="443.50" y2="334.5" stroke="#686868" stroke-width="0.9" stroke-dasharray="1.6,1.4"/>
<line x1="473.40" y1="244.8" x2="473.40" y2="334.5" stroke="#686868" stroke-width="0.9" stroke-dasharray="1.6,1.4"/>
<line x1="503.30" y1="244.8" x2="503.30" y2="334.5" stroke="#686868" stroke-width="0.9" stroke-dasharray="1.6,1.4"/>
<line x1="379.0" y1="266.30" x2="509.6" y2="266.30" stroke="#686868" stroke-width="0.9" stroke-dasharray="1.6,1.4"/>
<line x1="379.0" y1="288.10" x2="509.6" y2="288.10" stroke="#686868" stroke-width="0.9" stroke-dasharray="1.6,1.4"/>
<line x1="379.0" y1="309.90" x2="509.6" y2="309.90" stroke="#686868" stroke-width="0.9" stroke-dasharray="1.6,1.4"/>
<line x1="379.0" y1="331.70" x2="509.6" y2="331.70" stroke="#686868" stroke-width="0.9" stroke-dasharray="1.6,1.4"/>
<line x1="379.0" y1="334.20" x2="509.6" y2="334.20" stroke="#999" stroke-width="0.6"/>
<line x1="379.30" y1="244.8" x2="379.30" y2="334.5" stroke="#bbb" stroke-width="0.6"/>
<line x1="509.30" y1="244.8" x2="509.30" y2="334.5" stroke="#bbb" stroke-width="0.6"/>
<path d="M383.8,310.6 L384.8,310.6 L385.8,310.6 L386.8,310.6 L387.8,310.6 L388.8,310.6 L389.8,310.6 L390.8,310.6 L391.8,310.6 L392.8,310.5 L393.8,310.4 L394.8,310.4 L395.8,310.4 L396.8,310.4 L397.8,310.4 L398.8,310.4 L399.8,310.5 L400.8,310.8 L401.8,311.5 L402.8,312.0 L403.8,312.2 L404.8,312.4 L405.8,312.5 L406.8,312.5 L407.8,312.5 L408.8,312.4 L409.8,312.3 L410.8,312.0 L411.8,311.6 L412.8,311.0 L413.8,310.2 L414.8,309.1 L415.8,307.9 L416.8,306.4 L417.8,304.8 L418.8,303.0 L419.8,301.3 L420.8,299.3 L421.8,296.9 L422.8,294.8 L423.8,292.6 L424.8,290.3 L425.8,287.9 L426.8,285.2 L427.8,282.2 L428.8,279.0 L429.8,275.6 L430.8,272.4 L431.8,269.1 L432.8,265.9 L433.8,262.9 L434.8,260.0 L435.8,257.5 L436.8,255.5 L437.8,253.9 L438.8,252.5 L439.8,251.5 L440.8,250.7 L441.8,250.3 L442.8,250.1 L443.8,250.4 L444.8,250.9 L445.8,251.5 L446.8,252.2 L447.8,253.1 L448.8,254.2 L449.8,255.9 L450.8,258.6 L451.8,261.7 L452.8,265.2 L453.8,268.9 L454.8,272.9 L455.8,277.0 L456.8,281.4 L457.8,285.4 L458.8,288.1 L459.8,290.0 L460.8,291.8 L461.8,293.8 L462.8,296.0 L463.8,298.2 L464.8,300.6 L465.8,303.3 L466.8,306.2 L467.8,309.3 L468.8,312.4 L469.8,315.5 L470.8,318.7 L471.8,321.7 L472.8,324.3 L473.8,326.5 L474.8,328.3 L475.8,329.6 L476.8,330.2 L477.8,330.2 L478.8,329.9 L479.8,329.4 L480.8,328.7 L481.8,328.0 L482.8,327.1 L483.8,326.2 L484.8,325.3 L485.8,324.6 L486.8,323.9 L487.8,323.3 L488.8,322.8 L489.8,322.4 L490.8,322.1 L491.8,321.9 L492.8,321.8 L493.8,321.8 L494.8,321.8 L495.8,321.9 L496.8,321.9 L497.8,321.8 L498.8,321.8 L499.8,321.7 L500.8,321.5 L501.8,321.3 L502.8,321.0" fill="none" stroke="#fdf0bd" stroke-width="1.1" stroke-linejoin="round"/>
<path d="M383.8,310.6 L384.8,310.6 L385.8,310.6 L386.8,310.6 L387.8,310.6 L388.8,310.6 L389.8,310.6 L390.8,310.6 L391.8,310.6 L392.8,310.5 L393.8,310.4 L394.8,310.4 L395.8,310.4 L396.8,310.4 L397.8,310.4 L398.8,310.4 L399.8,310.5 L400.8,310.8 L401.8,311.5 L402.8,312.0 L403.8,312.2 L404.8,312.4 L405.8,312.5 L406.8,312.5 L407.8,312.5 L408.8,312.4 L409.8,312.3 L410.8,312.0 L411.8,311.6 L412.8,311.0 L413.8,310.2 L414.8,309.1 L415.8,307.9 L416.8,306.4 L417.8,304.8 L418.8,303.0 L419.8,301.3 L420.8,299.3 L421.8,297.0 L422.8,294.8 L423.8,292.4 L424.8,289.7 L425.8,286.8 L426.8,283.6 L427.8,279.8 L428.8,275.9 L429.8,272.3 L430.8,269.3 L431.8,266.5 L432.8,263.8 L433.8,261.3 L434.8,259.0 L435.8,257.0 L436.8,255.4 L437.8,254.1 L438.8,253.1 L439.8,252.3 L440.8,251.7 L441.8,251.4 L442.8,251.4 L443.8,251.6 L444.8,252.1 L445.8,252.7 L446.8,253.4 L447.8,254.1 L448.8,255.1 L449.8,256.6 L450.8,258.9 L451.8,261.8 L452.8,265.2 L453.8,268.9 L454.8,272.9 L455.8,277.0 L456.8,281.4 L457.8,285.4 L458.8,288.1 L459.8,290.0 L460.8,291.8 L461.8,293.8 L462.8,296.0 L463.8,298.2 L464.8,300.6 L465.8,303.3 L466.8,306.2 L467.8,309.3 L468.8,312.4 L469.8,315.5 L470.8,318.7 L471.8,321.7 L472.8,324.3 L473.8,326.5 L474.8,328.3 L475.8,329.6 L476.8,330.2 L477.8,330.2 L478.8,329.9 L479.8,329.4 L480.8,328.7 L481.8,328.0 L482.8,327.1 L483.8,326.2 L484.8,325.3 L485.8,324.6 L486.8,323.9 L487.8,323.3 L488.8,322.8 L489.8,322.4 L490.8,322.1 L491.8,321.9 L492.8,321.8 L493.8,321.8 L494.8,321.8 L495.8,321.9 L496.8,321.9 L497.8,321.8 L498.8,321.8 L499.8,321.7 L500.8,321.5 L501.8,321.3 L502.8,321.0" fill="none" stroke="#fbdc86" stroke-width="1.1" stroke-linejoin="round"/>
<path d="M383.8,310.6 L384.8,310.6 L385.8,310.6 L386.8,310.6 L387.8,310.6 L388.8,310.6 L389.8,310.6 L390.8,310.6 L391.8,310.6 L392.8,310.5 L393.8,310.4 L394.8,310.4 L395.8,310.4 L396.8,310.4 L397.8,310.4 L398.8,310.4 L399.8,310.5 L400.8,310.8 L401.8,311.5 L402.8,312.0 L403.8,312.2 L404.8,312.4 L405.8,312.5 L406.8,312.5 L407.8,312.5 L408.8,312.4 L409.8,312.3 L410.8,312.0 L411.8,311.6 L412.8,311.0 L413.8,310.2 L414.8,309.1 L415.8,307.9 L416.8,306.4 L417.8,304.8 L418.8,303.0 L419.8,301.3 L420.8,299.3 L421.8,297.0 L422.8,294.7 L423.8,292.1 L424.8,289.2 L425.8,285.8 L426.8,281.9 L427.8,277.5 L428.8,272.9 L429.8,269.0 L430.8,266.3 L431.8,263.9 L432.8,261.7 L433.8,259.8 L434.8,258.0 L435.8,256.5 L436.8,255.3 L437.8,254.4 L438.8,253.7 L439.8,253.1 L440.8,252.8 L441.8,252.6 L442.8,252.6 L443.8,252.9 L444.8,253.3 L445.8,253.9 L446.8,254.5 L447.8,255.2 L448.8,256.0 L449.8,257.3 L450.8,259.2 L451.8,261.8 L452.8,265.2 L453.8,268.9 L454.8,272.9 L455.8,277.0 L456.8,281.4 L457.8,285.4 L458.8,288.1 L459.8,290.0 L460.8,291.8 L461.8,293.8 L462.8,296.0 L463.8,298.2 L464.8,300.6 L465.8,303.3 L466.8,306.2 L467.8,309.3 L468.8,312.4 L469.8,315.5 L470.8,318.7 L471.8,321.7 L472.8,324.3 L473.8,326.5 L474.8,328.3 L475.8,329.6 L476.8,330.2 L477.8,330.2 L478.8,329.9 L479.8,329.4 L480.8,328.7 L481.8,328.0 L482.8,327.1 L483.8,326.2 L484.8,325.3 L485.8,324.6 L486.8,323.9 L487.8,323.3 L488.8,322.8 L489.8,322.4 L490.8,322.1 L491.8,321.9 L492.8,321.8 L493.8,321.8 L494.8,321.8 L495.8,321.9 L496.8,321.9 L497.8,321.8 L498.8,321.8 L499.8,321.7 L500.8,321.5 L501.8,321.3 L502.8,321.0" fill="none" stroke="#f9c06e" stroke-width="1.1" stroke-linejoin="round"/>
<path d="M383.8,310.6 L384.8,310.6 L385.8,310.6 L386.8,310.6 L387.8,310.6 L388.8,310.6 L389.8,310.6 L390.8,310.6 L391.8,310.6 L392.8,310.5 L393.8,310.4 L394.8,310.4 L395.8,310.4 L396.8,310.4 L397.8,310.4 L398.8,310.4 L399.8,310.5 L400.8,310.8 L401.8,311.5 L402.8,312.0 L403.8,312.2 L404.8,312.4 L405.8,312.5 L406.8,312.5 L407.8,312.5 L408.8,312.4 L409.8,312.3 L410.8,312.0 L411.8,311.6 L412.8,311.0 L413.8,310.2 L414.8,309.1 L415.8,307.9 L416.8,306.4 L417.8,304.8 L418.8,303.0 L419.8,301.3 L420.8,299.3 L421.8,297.0 L422.8,294.7 L423.8,291.9 L424.8,288.6 L425.8,284.7 L426.8,280.2 L427.8,275.1 L428.8,269.9 L429.8,265.7 L430.8,263.2 L431.8,261.3 L432.8,259.7 L433.8,258.3 L434.8,257.1 L435.8,256.0 L436.8,255.3 L437.8,254.7 L438.8,254.3 L439.8,254.0 L440.8,253.8 L441.8,253.7 L442.8,253.8 L443.8,254.1 L444.8,254.5 L445.8,255.0 L446.8,255.6 L447.8,256.2 L448.8,257.0 L449.8,258.0 L450.8,259.6 L451.8,261.9 L452.8,265.2 L453.8,268.9 L454.8,272.9 L455.8,277.0 L456.8,281.4 L457.8,285.4 L458.8,288.1 L459.8,290.0 L460.8,291.8 L461.8,293.8 L462.8,296.0 L463.8,298.2 L464.8,300.6 L465.8,303.3 L466.8,306.2 L467.8,309.3 L468.8,312.4 L469.8,315.5 L470.8,318.7 L471.8,321.7 L472.8,324.3 L473.8,326.5 L474.8,328.3 L475.8,329.6 L476.8,330.2 L477.8,330.2 L478.8,329.9 L479.8,329.4 L480.8,328.7 L481.8,328.0 L482.8,327.1 L483.8,326.2 L484.8,325.3 L485.8,324.6 L486.8,323.9 L487.8,323.3 L488.8,322.8 L489.8,322.4 L490.8,322.1 L491.8,321.9 L492.8,321.8 L493.8,321.8 L494.8,321.8 L495.8,321.9 L496.8,321.9 L497.8,321.8 L498.8,321.8 L499.8,321.7 L500.8,321.5 L501.8,321.3 L502.8,321.0" fill="none" stroke="#f7a05c" stroke-width="1.1" stroke-linejoin="round"/>
<path d="M383.8,310.6 L384.8,310.6 L385.8,310.6 L386.8,310.6 L387.8,310.6 L388.8,310.6 L389.8,310.6 L390.8,310.6 L391.8,310.6 L392.8,310.5 L393.8,310.4 L394.8,310.4 L395.8,310.4 L396.8,310.4 L397.8,310.4 L398.8,310.4 L399.8,310.5 L400.8,310.8 L401.8,311.5 L402.8,312.0 L403.8,312.2 L404.8,312.4 L405.8,312.5 L406.8,312.5 L407.8,312.5 L408.8,312.4 L409.8,312.3 L410.8,312.0 L411.8,311.6 L412.8,311.0 L413.8,310.2 L414.8,309.1 L415.8,307.9 L416.8,306.4 L417.8,304.8 L418.8,303.0 L419.8,301.3 L420.8,299.3 L421.8,297.1 L422.8,294.6 L423.8,291.6 L424.8,288.0 L425.8,283.6 L426.8,278.5 L427.8,272.7 L428.8,266.9 L429.8,262.4 L430.8,260.1 L431.8,258.7 L432.8,257.6 L433.8,256.7 L434.8,256.1 L435.8,255.5 L436.8,255.2 L437.8,254.9 L438.8,254.8 L439.8,254.8 L440.8,254.8 L441.8,254.9 L442.8,255.1 L443.8,255.4 L444.8,255.8 L445.8,256.2 L446.8,256.7 L447.8,257.3 L448.8,257.9 L449.8,258.7 L450.8,259.9 L451.8,261.9 L452.8,265.2 L453.8,268.9 L454.8,272.9 L455.8,277.0 L456.8,281.4 L457.8,285.4 L458.8,288.1 L459.8,290.0 L460.8,291.8 L461.8,293.8 L462.8,296.0 L463.8,298.2 L464.8,300.6 L465.8,303.3 L466.8,306.2 L467.8,309.3 L468.8,312.4 L469.8,315.5 L470.8,318.7 L471.8,321.7 L472.8,324.3 L473.8,326.5 L474.8,328.3 L475.8,329.6 L476.8,330.2 L477.8,330.2 L478.8,329.9 L479.8,329.4 L480.8,328.7 L481.8,328.0 L482.8,327.1 L483.8,326.2 L484.8,325.3 L485.8,324.6 L486.8,323.9 L487.8,323.3 L488.8,322.8 L489.8,322.4 L490.8,322.1 L491.8,321.9 L492.8,321.8 L493.8,321.8 L494.8,321.8 L495.8,321.9 L496.8,321.9 L497.8,321.8 L498.8,321.8 L499.8,321.7 L500.8,321.5 L501.8,321.3 L502.8,321.0" fill="none" stroke="#f27a4c" stroke-width="1.1" stroke-linejoin="round"/>
<path d="M383.8,310.6 L384.8,310.6 L385.8,310.6 L386.8,310.6 L387.8,310.6 L388.8,310.6 L389.8,310.6 L390.8,310.6 L391.8,310.6 L392.8,310.5 L393.8,310.4 L394.8,310.4 L395.8,310.4 L396.8,310.4 L397.8,310.4 L398.8,310.4 L399.8,310.5 L400.8,310.8 L401.8,311.5 L402.8,312.0 L403.8,312.2 L404.8,312.4 L405.8,312.5 L406.8,312.5 L407.8,312.5 L408.8,312.4 L409.8,312.3 L410.8,312.0 L411.8,311.6 L412.8,311.0 L413.8,310.2 L414.8,309.1 L415.8,307.9 L416.8,306.4 L417.8,304.8 L418.8,303.0 L419.8,301.3 L420.8,299.3 L421.8,297.1 L422.8,294.6 L423.8,291.4 L424.8,287.4 L425.8,282.5 L426.8,276.8 L427.8,270.3 L428.8,263.8 L429.8,259.0 L430.8,257.1 L431.8,256.1 L432.8,255.5 L433.8,255.2 L434.8,255.1 L435.8,255.1 L436.8,255.1 L437.8,255.2 L438.8,255.4 L439.8,255.6 L440.8,255.8 L441.8,256.0 L442.8,256.3 L443.8,256.6 L444.8,257.0 L445.8,257.4 L446.8,257.8 L447.8,258.3 L448.8,258.9 L449.8,259.4 L450.8,260.3 L451.8,262.0 L452.8,265.1 L453.8,268.9 L454.8,272.9 L455.8,277.0 L456.8,281.4 L457.8,285.4 L458.8,288.1 L459.8,290.0 L460.8,291.8 L461.8,293.8 L462.8,296.0 L463.8,298.2 L464.8,300.6 L465.8,303.3 L466.8,306.2 L467.8,309.3 L468.8,312.4 L469.8,315.5 L470.8,318.7 L471.8,321.7 L472.8,324.3 L473.8,326.5 L474.8,328.3 L475.8,329.6 L476.8,330.2 L477.8,330.2 L478.8,329.9 L479.8,329.4 L480.8,328.7 L481.8,328.0 L482.8,327.1 L483.8,326.2 L484.8,325.3 L485.8,324.6 L486.8,323.9 L487.8,323.3 L488.8,322.8 L489.8,322.4 L490.8,322.1 L491.8,321.9 L492.8,321.8 L493.8,321.8 L494.8,321.8 L495.8,321.9 L496.8,321.9 L497.8,321.8 L498.8,321.8 L499.8,321.7 L500.8,321.5 L501.8,321.3 L502.8,321.0" fill="none" stroke="#ea4a48" stroke-width="1.1" stroke-linejoin="round"/>
<path d="M383.8,310.6 L384.8,310.6 L385.8,310.6 L386.8,310.6 L387.8,310.6 L388.8,310.6 L389.8,310.6 L390.8,310.6 L391.8,310.6 L392.8,310.5 L393.8,310.4 L394.8,310.4 L395.8,310.4 L396.8,310.4 L397.8,310.4 L398.8,310.4 L399.8,310.5 L400.8,310.8 L401.8,311.5 L402.8,312.0 L403.8,312.2 L404.8,312.4 L405.8,312.5 L406.8,312.5 L407.8,312.5 L408.8,312.4 L409.8,312.3 L410.8,312.0 L411.8,311.6 L412.8,311.0 L413.8,310.2 L414.8,309.1 L415.8,307.9 L416.8,306.4 L417.8,304.8 L418.8,303.0 L419.8,301.3 L420.8,299.3 L421.8,297.2 L422.8,294.5 L423.8,291.1 L424.8,286.9 L425.8,281.5 L426.8,275.2 L427.8,267.9 L428.8,260.8 L429.8,255.7 L430.8,254.0 L431.8,253.5 L432.8,253.5 L433.8,253.7 L434.8,254.1 L435.8,254.6 L436.8,255.0 L437.8,255.5 L438.8,256.0 L439.8,256.4 L440.8,256.8 L441.8,257.2 L442.8,257.5 L443.8,257.9 L444.8,258.2 L445.8,258.6 L446.8,259.0 L447.8,259.4 L448.8,259.8 L449.8,260.2 L450.8,260.6 L451.8,262.0 L452.8,265.1 L453.8,268.9 L454.8,272.9 L455.8,277.0 L456.8,281.4 L457.8,285.4 L458.8,288.1 L459.8,290.0 L460.8,291.8 L461.8,293.8 L462.8,296.0 L463.8,298.2 L464.8,300.6 L465.8,303.3 L466.8,306.2 L467.8,309.3 L468.8,312.4 L469.8,315.5 L470.8,318.7 L471.8,321.7 L472.8,324.3 L473.8,326.5 L474.8,328.3 L475.8,329.6 L476.8,330.2 L477.8,330.2 L478.8,329.9 L479.8,329.4 L480.8,328.7 L481.8,328.0 L482.8,327.1 L483.8,326.2 L484.8,325.3 L485.8,324.6 L486.8,323.9 L487.8,323.3 L488.8,322.8 L489.8,322.4 L490.8,322.1 L491.8,321.9 L492.8,321.8 L493.8,321.8 L494.8,321.8 L495.8,321.9 L496.8,321.9 L497.8,321.8 L498.8,321.8 L499.8,321.7 L500.8,321.5 L501.8,321.3 L502.8,321.0" fill="none" stroke="#e6382f" stroke-width="1.1" stroke-linejoin="round"/>
<text x="377.50" y="268.92" font-size="5.6" text-anchor="end" fill="#222" stroke="#222" stroke-width="0.16">-10</text>
<text x="377.50" y="290.72" font-size="5.6" text-anchor="end" fill="#222" stroke="#222" stroke-width="0.16">-20</text>
<text x="377.50" y="312.52" font-size="5.6" text-anchor="end" fill="#222" stroke="#222" stroke-width="0.16">-30</text>
<text x="377.50" y="334.32" font-size="5.6" text-anchor="end" fill="#222" stroke="#222" stroke-width="0.16">-40</text>
<text x="383.70" y="340.82" font-size="5.6" text-anchor="middle" fill="#222" stroke="#222" stroke-width="0.16">0</text>
<text x="413.60" y="340.82" font-size="5.6" text-anchor="middle" fill="#222" stroke="#222" stroke-width="0.16">1000</text>
<text x="443.50" y="340.82" font-size="5.6" text-anchor="middle" fill="#222" stroke="#222" stroke-width="0.16">2000</text>
<text x="473.40" y="340.82" font-size="5.6" text-anchor="middle" fill="#222" stroke="#222" stroke-width="0.16">3000</text>
<text x="503.30" y="340.82" font-size="5.6" text-anchor="middle" fill="#222" stroke="#222" stroke-width="0.16">4000</text>
<text x="443.50" y="346.70" font-size="5.7" text-anchor="middle" fill="#222" stroke="#222" stroke-width="0.16">Distance (m)</text>
<text transform="translate(367.20,286.15) rotate(-90)" x="0" y="0" font-size="5.8" text-anchor="middle" fill="#222" stroke="#222" stroke-width="0.16">Water depth (m ODMain)</text>
<text x="380.70" y="242.30" font-size="6" font-weight="bold" fill="#111" stroke="#111" stroke-width="0.16">61'</text>
<text x="509.10" y="242.30" font-size="6" font-weight="bold" text-anchor="end" fill="#111" stroke="#111" stroke-width="0.16">61''</text>
<text x="356.5" y="332.50" font-size="6.2" fill="#222" stroke="#222" stroke-width="0.16">(h)</text>
<rect x="379.0" y="359.6" width="130.60" height="89.20" fill="#d9d9d9"/>
<line x1="398.72" y1="359.6" x2="398.72" y2="448.8" stroke="#e6e6e6" stroke-width="0.6"/>
<line x1="428.55" y1="359.6" x2="428.55" y2="448.8" stroke="#e6e6e6" stroke-width="0.6"/>
<line x1="458.38" y1="359.6" x2="458.38" y2="448.8" stroke="#e6e6e6" stroke-width="0.6"/>
<line x1="488.21" y1="359.6" x2="488.21" y2="448.8" stroke="#e6e6e6" stroke-width="0.6"/>
<line x1="379.0" y1="391.70" x2="509.6" y2="391.70" stroke="#e4e4e4" stroke-width="0.6"/>
<line x1="379.0" y1="413.30" x2="509.6" y2="413.30" stroke="#e4e4e4" stroke-width="0.6"/>
<line x1="379.0" y1="434.90" x2="509.6" y2="434.90" stroke="#e4e4e4" stroke-width="0.6"/>
<line x1="383.80" y1="359.6" x2="383.80" y2="448.8" stroke="#686868" stroke-width="0.9" stroke-dasharray="1.6,1.4"/>
<line x1="413.63" y1="359.6" x2="413.63" y2="448.8" stroke="#686868" stroke-width="0.9" stroke-dasharray="1.6,1.4"/>
<line x1="443.46" y1="359.6" x2="443.46" y2="448.8" stroke="#686868" stroke-width="0.9" stroke-dasharray="1.6,1.4"/>
<line x1="473.29" y1="359.6" x2="473.29" y2="448.8" stroke="#686868" stroke-width="0.9" stroke-dasharray="1.6,1.4"/>
<line x1="503.12" y1="359.6" x2="503.12" y2="448.8" stroke="#686868" stroke-width="0.9" stroke-dasharray="1.6,1.4"/>
<line x1="379.0" y1="380.90" x2="509.6" y2="380.90" stroke="#686868" stroke-width="0.9" stroke-dasharray="1.6,1.4"/>
<line x1="379.0" y1="402.50" x2="509.6" y2="402.50" stroke="#686868" stroke-width="0.9" stroke-dasharray="1.6,1.4"/>
<line x1="379.0" y1="424.10" x2="509.6" y2="424.10" stroke="#686868" stroke-width="0.9" stroke-dasharray="1.6,1.4"/>
<line x1="379.0" y1="445.70" x2="509.6" y2="445.70" stroke="#686868" stroke-width="0.9" stroke-dasharray="1.6,1.4"/>
<line x1="379.0" y1="448.50" x2="509.6" y2="448.50" stroke="#999" stroke-width="0.6"/>
<line x1="379.30" y1="359.6" x2="379.30" y2="448.8" stroke="#bbb" stroke-width="0.6"/>
<line x1="509.30" y1="359.6" x2="509.30" y2="448.8" stroke="#bbb" stroke-width="0.6"/>
<path d="M383.8,426.3 L384.8,426.3 L385.8,426.4 L386.8,426.4 L387.8,426.4 L388.8,426.4 L389.8,426.3 L390.8,426.1 L391.8,425.9 L392.8,425.5 L393.8,425.2 L394.8,424.8 L395.8,424.4 L396.8,424.0 L397.8,423.6 L398.8,423.3 L399.8,423.2 L400.8,423.2 L401.8,423.3 L402.8,423.6 L403.8,424.0 L404.8,424.6 L405.8,425.2 L406.8,425.7 L407.8,426.0 L408.8,426.2 L409.8,426.3 L410.8,426.3 L411.8,426.3 L412.8,426.1 L413.8,425.6 L414.8,424.8 L415.8,423.6 L416.8,422.2 L417.8,420.4 L418.8,418.4 L419.8,414.8 L420.8,412.5 L421.8,410.2 L422.8,407.9 L423.8,405.6 L424.8,403.3 L425.8,400.9 L426.8,398.6 L427.8,396.1 L428.8,393.6 L429.8,390.9 L430.8,388.1 L431.8,385.3 L432.8,382.4 L433.8,379.5 L434.8,376.8 L435.8,374.3 L436.8,372.0 L437.8,369.9 L438.8,368.2 L439.8,366.7 L440.8,365.5 L441.8,364.3 L442.8,363.5 L443.8,363.6 L444.8,364.5 L445.8,365.6 L446.8,366.7 L447.8,367.9 L448.8,369.1 L449.8,370.8 L450.8,373.5 L451.8,376.0 L452.8,378.5 L453.8,381.4 L454.8,385.5 L455.8,389.6 L456.8,393.4 L457.8,396.8 L458.8,399.6 L459.8,402.0 L460.8,404.2 L461.8,406.4 L462.8,408.4 L463.8,410.3 L464.8,412.3 L465.8,414.5 L466.8,417.0 L467.8,419.6 L468.8,422.6 L469.8,426.0 L470.8,429.8 L471.8,433.6 L472.8,437.0 L473.8,439.7 L474.8,441.6 L475.8,442.9 L476.8,443.5 L477.8,443.5 L478.8,442.8 L479.8,441.9 L480.8,440.9 L481.8,439.9 L482.8,438.9 L483.8,438.0 L484.8,437.1 L485.8,436.4 L486.8,435.6 L487.8,435.0 L488.8,434.4 L489.8,433.9 L490.8,433.4 L491.8,433.1 L492.8,432.8 L493.8,432.7 L494.8,432.8 L495.8,432.9 L496.8,433.1 L497.8,433.3 L498.8,433.5 L499.8,433.7 L500.8,434.0 L501.8,434.4 L502.8,435.0" fill="none" stroke="#fdf0bd" stroke-width="1.1" stroke-linejoin="round"/>
<path d="M383.8,426.3 L384.8,426.3 L385.8,426.4 L386.8,426.4 L387.8,426.4 L388.8,426.4 L389.8,426.3 L390.8,426.1 L391.8,425.9 L392.8,425.5 L393.8,425.2 L394.8,424.8 L395.8,424.4 L396.8,424.0 L397.8,423.6 L398.8,423.3 L399.8,423.2 L400.8,423.2 L401.8,423.3 L402.8,423.6 L403.8,424.0 L404.8,424.6 L405.8,425.2 L406.8,425.7 L407.8,426.0 L408.8,426.2 L409.8,426.3 L410.8,426.3 L411.8,426.3 L412.8,426.1 L413.8,425.6 L414.8,424.8 L415.8,423.6 L416.8,422.2 L417.8,420.4 L418.8,418.4 L419.8,415.0 L420.8,412.6 L421.8,410.2 L422.8,407.6 L423.8,404.9 L424.8,401.9 L425.8,398.7 L426.8,395.1 L427.8,392.3 L428.8,390.0 L429.8,387.7 L430.8,385.4 L431.8,383.0 L432.8,380.6 L433.8,378.2 L434.8,376.0 L435.8,373.9 L436.8,372.0 L437.8,370.3 L438.8,368.8 L439.8,367.6 L440.8,366.6 L441.8,365.6 L442.8,365.0 L443.8,365.1 L444.8,365.8 L445.8,366.7 L446.8,367.6 L447.8,368.6 L448.8,369.7 L449.8,371.1 L450.8,373.5 L451.8,375.9 L452.8,378.4 L453.8,381.4 L454.8,385.5 L455.8,389.6 L456.8,393.4 L457.8,396.8 L458.8,399.6 L459.8,402.0 L460.8,404.2 L461.8,406.4 L462.8,408.4 L463.8,410.3 L464.8,412.3 L465.8,414.5 L466.8,417.0 L467.8,419.6 L468.8,422.6 L469.8,426.0 L470.8,429.8 L471.8,433.6 L472.8,437.0 L473.8,439.7 L474.8,441.6 L475.8,442.9 L476.8,443.5 L477.8,443.5 L478.8,442.8 L479.8,441.9 L480.8,440.9 L481.8,439.9 L482.8,438.9 L483.8,438.0 L484.8,437.1 L485.8,436.4 L486.8,435.6 L487.8,435.0 L488.8,434.4 L489.8,433.9 L490.8,433.4 L491.8,433.1 L492.8,432.8 L493.8,432.7 L494.8,432.8 L495.8,432.9 L496.8,433.1 L497.8,433.3 L498.8,433.5 L499.8,433.7 L500.8,434.0 L501.8,434.4 L502.8,435.0" fill="none" stroke="#fbdc86" stroke-width="1.1" stroke-linejoin="round"/>
<path d="M383.8,426.3 L384.8,426.3 L385.8,426.4 L386.8,426.4 L387.8,426.4 L388.8,426.4 L389.8,426.3 L390.8,426.1 L391.8,425.9 L392.8,425.5 L393.8,425.2 L394.8,424.8 L395.8,424.4 L396.8,424.0 L397.8,423.6 L398.8,423.3 L399.8,423.2 L400.8,423.2 L401.8,423.3 L402.8,423.6 L403.8,424.0 L404.8,424.6 L405.8,425.2 L406.8,425.7 L407.8,426.0 L408.8,426.2 L409.8,426.3 L410.8,426.3 L411.8,426.3 L412.8,426.1 L413.8,425.6 L414.8,424.8 L415.8,423.6 L416.8,422.2 L417.8,420.4 L418.8,418.4 L419.8,415.2 L420.8,412.8 L421.8,410.2 L422.8,407.4 L423.8,404.1 L424.8,400.4 L425.8,396.4 L426.8,391.7 L427.8,388.4 L428.8,386.3 L429.8,384.5 L430.8,382.6 L431.8,380.7 L432.8,378.8 L433.8,376.9 L434.8,375.2 L435.8,373.6 L436.8,372.0 L437.8,370.7 L438.8,369.5 L439.8,368.5 L440.8,367.7 L441.8,367.0 L442.8,366.5 L443.8,366.5 L444.8,367.1 L445.8,367.8 L446.8,368.6 L447.8,369.3 L448.8,370.2 L449.8,371.5 L450.8,373.6 L451.8,375.8 L452.8,378.4 L453.8,381.4 L454.8,385.5 L455.8,389.6 L456.8,393.4 L457.8,396.8 L458.8,399.6 L459.8,402.0 L460.8,404.2 L461.8,406.4 L462.8,408.4 L463.8,410.3 L464.8,412.3 L465.8,414.5 L466.8,417.0 L467.8,419.6 L468.8,422.6 L469.8,426.0 L470.8,429.8 L471.8,433.6 L472.8,437.0 L473.8,439.7 L474.8,441.6 L475.8,442.9 L476.8,443.5 L477.8,443.5 L478.8,442.8 L479.8,441.9 L480.8,440.9 L481.8,439.9 L482.8,438.9 L483.8,438.0 L484.8,437.1 L485.8,436.4 L486.8,435.6 L487.8,435.0 L488.8,434.4 L489.8,433.9 L490.8,433.4 L491.8,433.1 L492.8,432.8 L493.8,432.7 L494.8,432.8 L495.8,432.9 L496.8,433.1 L497.8,433.3 L498.8,433.5 L499.8,433.7 L500.8,434.0 L501.8,434.4 L502.8,435.0" fill="none" stroke="#f9c06e" stroke-width="1.1" stroke-linejoin="round"/>
<path d="M383.8,426.3 L384.8,426.3 L385.8,426.4 L386.8,426.4 L387.8,426.4 L388.8,426.4 L389.8,426.3 L390.8,426.1 L391.8,425.9 L392.8,425.5 L393.8,425.2 L394.8,424.8 L395.8,424.4 L396.8,424.0 L397.8,423.6 L398.8,423.3 L399.8,423.2 L400.8,423.2 L401.8,423.3 L402.8,423.6 L403.8,424.0 L404.8,424.6 L405.8,425.2 L406.8,425.7 L407.8,426.0 L408.8,426.2 L409.8,426.3 L410.8,426.3 L411.8,426.3 L412.8,426.1 L413.8,425.6 L414.8,424.8 L415.8,423.6 L416.8,422.2 L417.8,420.4 L418.8,418.4 L419.8,415.4 L420.8,412.9 L421.8,410.2 L422.8,407.1 L423.8,403.3 L424.8,399.0 L425.8,394.1 L426.8,388.2 L427.8,384.6 L428.8,382.7 L429.8,381.3 L430.8,379.9 L431.8,378.5 L432.8,377.1 L433.8,375.7 L434.8,374.4 L435.8,373.2 L436.8,372.0 L437.8,371.0 L438.8,370.2 L439.8,369.5 L440.8,368.9 L441.8,368.3 L442.8,367.9 L443.8,368.0 L444.8,368.4 L445.8,368.9 L446.8,369.5 L447.8,370.0 L448.8,370.8 L449.8,371.8 L450.8,373.6 L451.8,375.8 L452.8,378.3 L453.8,381.4 L454.8,385.5 L455.8,389.6 L456.8,393.4 L457.8,396.8 L458.8,399.6 L459.8,402.0 L460.8,404.2 L461.8,406.4 L462.8,408.4 L463.8,410.3 L464.8,412.3 L465.8,414.5 L466.8,417.0 L467.8,419.6 L468.8,422.6 L469.8,426.0 L470.8,429.8 L471.8,433.6 L472.8,437.0 L473.8,439.7 L474.8,441.6 L475.8,442.9 L476.8,443.5 L477.8,443.5 L478.8,442.8 L479.8,441.9 L480.8,440.9 L481.8,439.9 L482.8,438.9 L483.8,438.0 L484.8,437.1 L485.8,436.4 L486.8,435.6 L487.8,435.0 L488.8,434.4 L489.8,433.9 L490.8,433.4 L491.8,433.1 L492.8,432.8 L493.8,432.7 L494.8,432.8 L495.8,432.9 L496.8,433.1 L497.8,433.3 L498.8,433.5 L499.8,433.7 L500.8,434.0 L501.8,434.4 L502.8,435.0" fill="none" stroke="#f7a05c" stroke-width="1.1" stroke-linejoin="round"/>
<path d="M383.8,426.3 L384.8,426.3 L385.8,426.4 L386.8,426.4 L387.8,426.4 L388.8,426.4 L389.8,426.3 L390.8,426.1 L391.8,425.9 L392.8,425.5 L393.8,425.2 L394.8,424.8 L395.8,424.4 L396.8,424.0 L397.8,423.6 L398.8,423.3 L399.8,423.2 L400.8,423.2 L401.8,423.3 L402.8,423.6 L403.8,424.0 L404.8,424.6 L405.8,425.2 L406.8,425.7 L407.8,426.0 L408.8,426.2 L409.8,426.3 L410.8,426.3 L411.8,426.3 L412.8,426.1 L413.8,425.6 L414.8,424.8 L415.8,423.6 L416.8,422.2 L417.8,420.4 L418.8,418.4 L419.8,415.6 L420.8,413.1 L421.8,410.2 L422.8,406.8 L423.8,402.6 L424.8,397.6 L425.8,391.8 L426.8,384.8 L427.8,380.7 L428.8,379.1 L429.8,378.0 L430.8,377.1 L431.8,376.2 L432.8,375.3 L433.8,374.4 L434.8,373.6 L435.8,372.8 L436.8,372.1 L437.8,371.4 L438.8,370.8 L439.8,370.4 L440.8,370.0 L441.8,369.6 L442.8,369.4 L443.8,369.4 L444.8,369.7 L445.8,370.1 L446.8,370.4 L447.8,370.8 L448.8,371.3 L449.8,372.1 L450.8,373.6 L451.8,375.7 L452.8,378.3 L453.8,381.4 L454.8,385.5 L455.8,389.6 L456.8,393.4 L457.8,396.8 L458.8,399.6 L459.8,402.0 L460.8,404.2 L461.8,406.4 L462.8,408.4 L463.8,410.3 L464.8,412.3 L465.8,414.5 L466.8,417.0 L467.8,419.6 L468.8,422.6 L469.8,426.0 L470.8,429.8 L471.8,433.6 L472.8,437.0 L473.8,439.7 L474.8,441.6 L475.8,442.9 L476.8,443.5 L477.8,443.5 L478.8,442.8 L479.8,441.9 L480.8,440.9 L481.8,439.9 L482.8,438.9 L483.8,438.0 L484.8,437.1 L485.8,436.4 L486.8,435.6 L487.8,435.0 L488.8,434.4 L489.8,433.9 L490.8,433.4 L491.8,433.1 L492.8,432.8 L493.8,432.7 L494.8,432.8 L495.8,432.9 L496.8,433.1 L497.8,433.3 L498.8,433.5 L499.8,433.7 L500.8,434.0 L501.8,434.4 L502.8,435.0" fill="none" stroke="#f27a4c" stroke-width="1.1" stroke-linejoin="round"/>
<path d="M383.8,426.3 L384.8,426.3 L385.8,426.4 L386.8,426.4 L387.8,426.4 L388.8,426.4 L389.8,426.3 L390.8,426.1 L391.8,425.9 L392.8,425.5 L393.8,425.2 L394.8,424.8 L395.8,424.4 L396.8,424.0 L397.8,423.6 L398.8,423.3 L399.8,423.2 L400.8,423.2 L401.8,423.3 L402.8,423.6 L403.8,424.0 L404.8,424.6 L405.8,425.2 L406.8,425.7 L407.8,426.0 L408.8,426.2 L409.8,426.3 L410.8,426.3 L411.8,426.3 L412.8,426.1 L413.8,425.6 L414.8,424.8 L415.8,423.6 L416.8,422.2 L417.8,420.4 L418.8,418.4 L419.8,415.8 L420.8,413.2 L421.8,410.3 L422.8,406.5 L423.8,401.8 L424.8,396.2 L425.8,389.5 L426.8,381.3 L427.8,376.8 L428.8,375.4 L429.8,374.8 L430.8,374.4 L431.8,373.9 L432.8,373.5 L433.8,373.1 L434.8,372.7 L435.8,372.4 L436.8,372.1 L437.8,371.8 L438.8,371.5 L439.8,371.3 L440.8,371.1 L441.8,370.9 L442.8,370.8 L443.8,370.9 L444.8,371.0 L445.8,371.2 L446.8,371.3 L447.8,371.5 L448.8,371.8 L449.8,372.4 L450.8,373.7 L451.8,375.6 L452.8,378.2 L453.8,381.4 L454.8,385.5 L455.8,389.6 L456.8,393.4 L457.8,396.8 L458.8,399.6 L459.8,402.0 L460.8,404.2 L461.8,406.4 L462.8,408.4 L463.8,410.3 L464.8,412.3 L465.8,414.5 L466.8,417.0 L467.8,419.6 L468.8,422.6 L469.8,426.0 L470.8,429.8 L471.8,433.6 L472.8,437.0 L473.8,439.7 L474.8,441.6 L475.8,442.9 L476.8,443.5 L477.8,443.5 L478.8,442.8 L479.8,441.9 L480.8,440.9 L481.8,439.9 L482.8,438.9 L483.8,438.0 L484.8,437.1 L485.8,436.4 L486.8,435.6 L487.8,435.0 L488.8,434.4 L489.8,433.9 L490.8,433.4 L491.8,433.1 L492.8,432.8 L493.8,432.7 L494.8,432.8 L495.8,432.9 L496.8,433.1 L497.8,433.3 L498.8,433.5 L499.8,433.7 L500.8,434.0 L501.8,434.4 L502.8,435.0" fill="none" stroke="#ea4a48" stroke-width="1.1" stroke-linejoin="round"/>
<path d="M383.8,426.3 L384.8,426.3 L385.8,426.4 L386.8,426.4 L387.8,426.4 L388.8,426.4 L389.8,426.3 L390.8,426.1 L391.8,425.9 L392.8,425.5 L393.8,425.2 L394.8,424.8 L395.8,424.4 L396.8,424.0 L397.8,423.6 L398.8,423.3 L399.8,423.2 L400.8,423.2 L401.8,423.3 L402.8,423.6 L403.8,424.0 L404.8,424.6 L405.8,425.2 L406.8,425.7 L407.8,426.0 L408.8,426.2 L409.8,426.3 L410.8,426.3 L411.8,426.3 L412.8,426.1 L413.8,425.6 L414.8,424.8 L415.8,423.6 L416.8,422.2 L417.8,420.4 L418.8,418.4 L419.8,416.0 L420.8,413.4 L421.8,410.3 L422.8,406.3 L423.8,401.1 L424.8,394.7 L425.8,387.2 L426.8,377.8 L427.8,373.0 L428.8,371.8 L429.8,371.6 L430.8,371.6 L431.8,371.6 L432.8,371.7 L433.8,371.8 L434.8,371.9 L435.8,372.0 L436.8,372.1 L437.8,372.1 L438.8,372.2 L439.8,372.2 L440.8,372.2 L441.8,372.3 L442.8,372.3 L443.8,372.3 L444.8,372.3 L445.8,372.3 L446.8,372.2 L447.8,372.2 L448.8,372.4 L449.8,372.7 L450.8,373.7 L451.8,375.5 L452.8,378.1 L453.8,381.4 L454.8,385.5 L455.8,389.6 L456.8,393.4 L457.8,396.8 L458.8,399.6 L459.8,402.0 L460.8,404.2 L461.8,406.4 L462.8,408.4 L463.8,410.3 L464.8,412.3 L465.8,414.5 L466.8,417.0 L467.8,419.6 L468.8,422.6 L469.8,426.0 L470.8,429.8 L471.8,433.6 L472.8,437.0 L473.8,439.7 L474.8,441.6 L475.8,442.9 L476.8,443.5 L477.8,443.5 L478.8,442.8 L479.8,441.9 L480.8,440.9 L481.8,439.9 L482.8,438.9 L483.8,438.0 L484.8,437.1 L485.8,436.4 L486.8,435.6 L487.8,435.0 L488.8,434.4 L489.8,433.9 L490.8,433.4 L491.8,433.1 L492.8,432.8 L493.8,432.7 L494.8,432.8 L495.8,432.9 L496.8,433.1 L497.8,433.3 L498.8,433.5 L499.8,433.7 L500.8,434.0 L501.8,434.4 L502.8,435.0" fill="none" stroke="#e6382f" stroke-width="1.1" stroke-linejoin="round"/>
<text x="377.50" y="383.52" font-size="5.6" text-anchor="end" fill="#222" stroke="#222" stroke-width="0.16">-10</text>
<text x="377.50" y="405.12" font-size="5.6" text-anchor="end" fill="#222" stroke="#222" stroke-width="0.16">-20</text>
<text x="377.50" y="426.72" font-size="5.6" text-anchor="end" fill="#222" stroke="#222" stroke-width="0.16">-30</text>
<text x="377.50" y="448.32" font-size="5.6" text-anchor="end" fill="#222" stroke="#222" stroke-width="0.16">-40</text>
<text x="383.80" y="455.12" font-size="5.6" text-anchor="middle" fill="#222" stroke="#222" stroke-width="0.16">0</text>
<text x="413.63" y="455.12" font-size="5.6" text-anchor="middle" fill="#222" stroke="#222" stroke-width="0.16">1000</text>
<text x="443.46" y="455.12" font-size="5.6" text-anchor="middle" fill="#222" stroke="#222" stroke-width="0.16">2000</text>
<text x="473.29" y="455.12" font-size="5.6" text-anchor="middle" fill="#222" stroke="#222" stroke-width="0.16">3000</text>
<text x="503.12" y="455.12" font-size="5.6" text-anchor="middle" fill="#222" stroke="#222" stroke-width="0.16">4000</text>
<text x="443.46" y="461.00" font-size="5.7" text-anchor="middle" fill="#222" stroke="#222" stroke-width="0.16">Distance (m)</text>
<text transform="translate(367.20,400.70) rotate(-90)" x="0" y="0" font-size="5.8" text-anchor="middle" fill="#222" stroke="#222" stroke-width="0.16">Water depth (m ODMain)</text>
<text x="380.80" y="357.10" font-size="6" font-weight="bold" fill="#111" stroke="#111" stroke-width="0.16">62'</text>
<text x="509.10" y="357.10" font-size="6" font-weight="bold" text-anchor="end" fill="#111" stroke="#111" stroke-width="0.16">62''</text>
<text x="356.5" y="446.80" font-size="6.2" fill="#222" stroke="#222" stroke-width="0.16">(i)</text>
<text x="278" y="7.7" font-size="5.8" font-weight="bold" text-anchor="middle" fill="#111" stroke="#111" stroke-width="0.16">Stable areas</text>
<text x="443.4" y="7.7" font-size="5.8" font-weight="bold" text-anchor="middle" fill="#111" stroke="#111" stroke-width="0.16">Mobile areas</text>
<text x="513.8" y="204" font-size="6.2" fill="#333" stroke="#333" stroke-width="0.16">Legend</text>
<line x1="513.5" y1="210.40" x2="519.8" y2="210.40" stroke="#fdf0bd" stroke-width="1"/>
<text x="523" y="212.50" font-size="5.9" fill="#333" stroke="#333" stroke-width="0.16">01 t0</text>
<line x1="513.5" y1="217.46" x2="519.8" y2="217.46" stroke="#fbdc86" stroke-width="1"/>
<text x="523" y="219.56" font-size="5.9" fill="#333" stroke="#333" stroke-width="0.16">02 t2mo</text>
<line x1="513.5" y1="224.52" x2="519.8" y2="224.52" stroke="#f9c06e" stroke-width="1"/>
<text x="523" y="226.62" font-size="5.9" fill="#333" stroke="#333" stroke-width="0.16">03 t4mo</text>
<line x1="513.5" y1="231.58" x2="519.8" y2="231.58" stroke="#f7a05c" stroke-width="1"/>
<text x="523" y="233.68" font-size="5.9" fill="#333" stroke="#333" stroke-width="0.16">04 t6mo</text>
<line x1="513.5" y1="238.64" x2="519.8" y2="238.64" stroke="#f27a4c" stroke-width="1"/>
<text x="523" y="240.74" font-size="5.9" fill="#333" stroke="#333" stroke-width="0.16">05 t8mo</text>
<line x1="513.5" y1="245.70" x2="519.8" y2="245.70" stroke="#ec4460" stroke-width="1"/>
<text x="523" y="247.80" font-size="5.9" fill="#333" stroke="#333" stroke-width="0.16">06 t10mo</text>
<line x1="513.5" y1="252.76" x2="519.8" y2="252.76" stroke="#d8304c" stroke-width="1"/>
<text x="523" y="254.86" font-size="5.9" fill="#333" stroke="#333" stroke-width="0.16">07 t12mo</text>
</svg>
</body></html>
